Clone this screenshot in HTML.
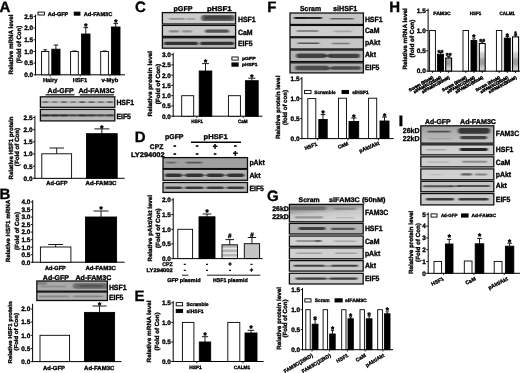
<!DOCTYPE html>
<html lang="en"><head><meta charset="utf-8"><title>Figure</title>
<style>html,body{margin:0;padding:0;background:#fff;}body{width:520px;height:373px;overflow:hidden;}svg{display:block;}text{font-family:"Liberation Sans", sans-serif;}</style></head><body>
<svg width="520" height="373" viewBox="0 0 520 373" text-rendering="geometricPrecision">
<defs><filter id="bl" x="-20%" y="-50%" width="140%" height="200%"><feGaussianBlur stdDeviation="0.9 0.7"/></filter><filter id="soft"><feGaussianBlur stdDeviation="0.35"/></filter><pattern id="hatch" width="3" height="4.4" y="245" patternUnits="userSpaceOnUse"><rect width="3" height="4.4" fill="#b4b4b4"/><rect y="2.9" width="3" height="1.5" fill="#f0f0f0"/></pattern><linearGradient id="gfade" gradientUnits="userSpaceOnUse" x1="0" y1="36" x2="0" y2="71"><stop offset="0" stop-color="#fff"/><stop offset="0.42" stop-color="#f4f4f4"/><stop offset="0.5" stop-color="#cfcfcf"/><stop offset="0.6" stop-color="#c4c4c4"/><stop offset="0.68" stop-color="#a0a0a0"/><stop offset="0.8" stop-color="#9c9c9c"/><stop offset="0.88" stop-color="#c0c0c0"/><stop offset="1" stop-color="#d8d8d8"/></linearGradient><linearGradient id="gG" x1="0" y1="0" x2="0.35" y2="1"><stop offset="0" stop-color="#858585"/><stop offset="0.4" stop-color="#a2a2a2"/><stop offset="0.6" stop-color="#c8c8c8"/><stop offset="1" stop-color="#d6d6d6"/></linearGradient><linearGradient id="gI" x1="0" y1="0" x2="0.2" y2="1"><stop offset="0" stop-color="#9a9a9a"/><stop offset="0.5" stop-color="#b0b0b0"/><stop offset="1" stop-color="#c0c0c0"/></linearGradient></defs>
<rect width="520" height="373" fill="#fff"/>
<g filter="url(#soft)">
<text x="-0.40" y="11.60" font-size="15" font-weight="bold" text-anchor="start" fill="#000" stroke="#000" stroke-width="0.34">A</text>
<rect x="38.00" y="12.10" width="6.40" height="2.90" fill="#fff" stroke="#000" stroke-width="0.9" />
<text x="47.80" y="15.62" font-size="5.6" font-weight="bold" text-anchor="start" fill="#000" stroke="#000" stroke-width="0.34" textLength="20.50" lengthAdjust="spacingAndGlyphs">Ad-GFP</text>
<rect x="74.20" y="12.10" width="5.80" height="3.10" fill="#000" stroke="#000" stroke-width="0.9" />
<text x="83.80" y="15.62" font-size="5.6" font-weight="bold" text-anchor="start" fill="#000" stroke="#000" stroke-width="0.34" textLength="28.50" lengthAdjust="spacingAndGlyphs">Ad-FAM3C</text>
<line x1="50.20" y1="74.80" x2="50.20" y2="76.60" stroke="#000" stroke-width="0.8"/>
<line x1="80.20" y1="74.80" x2="80.20" y2="76.60" stroke="#000" stroke-width="0.8"/>
<line x1="110.00" y1="74.80" x2="110.00" y2="76.60" stroke="#000" stroke-width="0.8"/>
<line x1="35.50" y1="14.60" x2="35.50" y2="75.30" stroke="#000" stroke-width="1.0"/>
<line x1="35.00" y1="74.80" x2="125.00" y2="74.80" stroke="#000" stroke-width="1.0"/>
<line x1="33.50" y1="16.40" x2="35.50" y2="16.40" stroke="#000" stroke-width="0.9"/>
<text x="33.10" y="18.70" font-size="6.4" font-weight="bold" text-anchor="end" fill="#000" stroke="#000" stroke-width="0.34">2.5</text>
<line x1="33.50" y1="28.00" x2="35.50" y2="28.00" stroke="#000" stroke-width="0.9"/>
<text x="33.10" y="30.30" font-size="6.4" font-weight="bold" text-anchor="end" fill="#000" stroke="#000" stroke-width="0.34">2.0</text>
<line x1="33.50" y1="39.80" x2="35.50" y2="39.80" stroke="#000" stroke-width="0.9"/>
<text x="33.10" y="42.10" font-size="6.4" font-weight="bold" text-anchor="end" fill="#000" stroke="#000" stroke-width="0.34">1.5</text>
<line x1="33.50" y1="51.50" x2="35.50" y2="51.50" stroke="#000" stroke-width="0.9"/>
<text x="33.10" y="53.80" font-size="6.4" font-weight="bold" text-anchor="end" fill="#000" stroke="#000" stroke-width="0.34">1.0</text>
<line x1="33.50" y1="63.10" x2="35.50" y2="63.10" stroke="#000" stroke-width="0.9"/>
<text x="33.10" y="65.40" font-size="6.4" font-weight="bold" text-anchor="end" fill="#000" stroke="#000" stroke-width="0.34">0.5</text>
<line x1="33.50" y1="74.80" x2="35.50" y2="74.80" stroke="#000" stroke-width="0.9"/>
<text x="33.10" y="77.10" font-size="6.4" font-weight="bold" text-anchor="end" fill="#000" stroke="#000" stroke-width="0.34">0.0</text>
<text x="10.40" y="46.83" font-size="6.2" font-weight="bold" text-anchor="middle" fill="#000" stroke="#000" stroke-width="0.34" textLength="60.00" lengthAdjust="spacingAndGlyphs" transform="rotate(-90 10.40 44.60)">Relative mRNA level</text>
<text x="18.50" y="46.83" font-size="6.2" font-weight="bold" text-anchor="middle" fill="#000" stroke="#000" stroke-width="0.34" textLength="37.50" lengthAdjust="spacingAndGlyphs" transform="rotate(-90 18.50 44.60)">(Fold of Con)</text>
<line x1="45.20" y1="49.80" x2="45.20" y2="51.50" stroke="#000" stroke-width="0.9"/>
<line x1="43.22" y1="49.80" x2="47.18" y2="49.80" stroke="#000" stroke-width="0.9"/>
<rect x="41.60" y="51.50" width="7.20" height="23.30" fill="#fff" stroke="#000" stroke-width="0.9" />
<line x1="55.90" y1="45.00" x2="55.90" y2="49.20" stroke="#000" stroke-width="0.9"/>
<line x1="53.64" y1="45.00" x2="58.16" y2="45.00" stroke="#000" stroke-width="0.9"/>
<rect x="51.80" y="49.20" width="8.20" height="25.60" fill="#000" stroke="#000" stroke-width="0.9" />
<line x1="74.45" y1="51.00" x2="74.45" y2="51.50" stroke="#000" stroke-width="0.9"/>
<line x1="72.33" y1="51.00" x2="76.57" y2="51.00" stroke="#000" stroke-width="0.9"/>
<rect x="70.60" y="51.50" width="7.70" height="23.30" fill="#fff" stroke="#000" stroke-width="0.9" />
<line x1="85.80" y1="27.60" x2="85.80" y2="34.00" stroke="#000" stroke-width="0.9"/>
<line x1="83.49" y1="27.60" x2="88.11" y2="27.60" stroke="#000" stroke-width="0.9"/>
<rect x="81.60" y="34.00" width="8.40" height="40.80" fill="#000" stroke="#000" stroke-width="0.9" />
<text x="85.80" y="28.98" font-size="8" font-weight="bold" text-anchor="middle" fill="#000" stroke="#000" stroke-width="0.5">*</text>
<line x1="104.55" y1="51.00" x2="104.55" y2="51.50" stroke="#000" stroke-width="0.9"/>
<line x1="102.43" y1="51.00" x2="106.67" y2="51.00" stroke="#000" stroke-width="0.9"/>
<rect x="100.70" y="51.50" width="7.70" height="23.30" fill="#fff" stroke="#000" stroke-width="0.9" />
<line x1="115.70" y1="23.60" x2="115.70" y2="27.00" stroke="#000" stroke-width="0.9"/>
<line x1="113.34" y1="23.60" x2="118.06" y2="23.60" stroke="#000" stroke-width="0.9"/>
<rect x="111.40" y="27.00" width="8.60" height="47.80" fill="#000" stroke="#000" stroke-width="0.9" />
<text x="115.70" y="24.68" font-size="8" font-weight="bold" text-anchor="middle" fill="#000" stroke="#000" stroke-width="0.5">*</text>
<text x="50.20" y="82.05" font-size="5.7" font-weight="bold" text-anchor="middle" fill="#000" stroke="#000" stroke-width="0.34" textLength="14.60" lengthAdjust="spacingAndGlyphs">Hairy</text>
<text x="80.00" y="82.05" font-size="5.7" font-weight="bold" text-anchor="middle" fill="#000" stroke="#000" stroke-width="0.34" textLength="14.60" lengthAdjust="spacingAndGlyphs">HSF1</text>
<text x="109.80" y="82.05" font-size="5.7" font-weight="bold" text-anchor="middle" fill="#000" stroke="#000" stroke-width="0.34" textLength="16.80" lengthAdjust="spacingAndGlyphs">v-Myb</text>
<text x="47.60" y="92.92" font-size="7.0" font-weight="bold" text-anchor="start" fill="#000" stroke="#000" stroke-width="0.34" textLength="26.00" lengthAdjust="spacingAndGlyphs">Ad-GFP</text>
<text x="78.40" y="92.92" font-size="7.0" font-weight="bold" text-anchor="start" fill="#000" stroke="#000" stroke-width="0.34" textLength="36.20" lengthAdjust="spacingAndGlyphs">Ad-FAM3C</text>
<line x1="45.60" y1="94.80" x2="74.50" y2="94.80" stroke="#111" stroke-width="1.2"/>
<line x1="79.80" y1="94.80" x2="113.90" y2="94.80" stroke="#111" stroke-width="1.2"/>
<rect x="40.40" y="96.80" width="74.40" height="10.50" fill="#c6c6c6" stroke="none" stroke-width="0" />
<clipPath id="c404_968"><rect x="40.40" y="96.80" width="74.40" height="10.50"/></clipPath>
<g clip-path="url(#c404_968)" filter="url(#bl)">
<rect x="42.25" y="101.35" width="6.50" height="1.70" rx="0.85" fill="#2a2a2a" opacity="0.6"/>
<rect x="51.46" y="101.35" width="6.50" height="1.70" rx="0.85" fill="#2a2a2a" opacity="0.5"/>
<rect x="60.68" y="101.35" width="6.50" height="1.70" rx="0.85" fill="#2a2a2a" opacity="0.6"/>
<rect x="69.89" y="101.35" width="6.50" height="1.70" rx="0.85" fill="#2a2a2a" opacity="0.5"/>
<rect x="79.11" y="101.35" width="6.50" height="1.70" rx="0.85" fill="#2a2a2a" opacity="0.7"/>
<rect x="88.32" y="101.35" width="6.50" height="1.70" rx="0.85" fill="#2a2a2a" opacity="0.65"/>
<rect x="97.54" y="101.35" width="6.50" height="1.70" rx="0.85" fill="#2a2a2a" opacity="0.55"/>
<rect x="106.75" y="101.35" width="6.50" height="1.70" rx="0.85" fill="#2a2a2a" opacity="0.65"/>
</g>
<rect x="40.40" y="96.80" width="74.40" height="10.50" fill="none" stroke="#111" stroke-width="1.3" />
<rect x="40.40" y="109.40" width="74.40" height="11.50" fill="#b8b8b8" stroke="none" stroke-width="0" />
<clipPath id="c404_1094"><rect x="40.40" y="109.40" width="74.40" height="11.50"/></clipPath>
<g clip-path="url(#c404_1094)" filter="url(#bl)">
<rect x="40.90" y="114.25" width="9.20" height="2.30" rx="1.15" fill="#1a1a1a" opacity="0.85"/>
<rect x="50.11" y="114.25" width="9.20" height="2.30" rx="1.15" fill="#1a1a1a" opacity="0.85"/>
<rect x="59.33" y="114.25" width="9.20" height="2.30" rx="1.15" fill="#1a1a1a" opacity="0.85"/>
<rect x="68.54" y="114.25" width="9.20" height="2.30" rx="1.15" fill="#1a1a1a" opacity="0.7"/>
<rect x="77.76" y="114.25" width="9.20" height="2.30" rx="1.15" fill="#1a1a1a" opacity="0.85"/>
<rect x="86.97" y="114.25" width="9.20" height="2.30" rx="1.15" fill="#1a1a1a" opacity="0.75"/>
<rect x="96.19" y="114.25" width="9.20" height="2.30" rx="1.15" fill="#1a1a1a" opacity="0.7"/>
<rect x="105.40" y="114.25" width="9.20" height="2.30" rx="1.15" fill="#1a1a1a" opacity="0.75"/>
</g>
<rect x="40.40" y="109.40" width="74.40" height="11.50" fill="none" stroke="#111" stroke-width="1.3" />
<text x="116.40" y="105.30" font-size="7.5" font-weight="bold" text-anchor="start" fill="#000" stroke="#000" stroke-width="0.34" textLength="17.64" lengthAdjust="spacingAndGlyphs">HSF1</text>
<text x="116.40" y="118.50" font-size="7.5" font-weight="bold" text-anchor="start" fill="#000" stroke="#000" stroke-width="0.34" textLength="14.57" lengthAdjust="spacingAndGlyphs">EIF5</text>
<line x1="34.90" y1="115.70" x2="34.90" y2="178.80" stroke="#000" stroke-width="1.0"/>
<line x1="34.40" y1="178.30" x2="124.70" y2="178.30" stroke="#000" stroke-width="1.0"/>
<line x1="32.90" y1="117.50" x2="34.90" y2="117.50" stroke="#000" stroke-width="0.9"/>
<text x="32.50" y="119.80" font-size="6.4" font-weight="bold" text-anchor="end" fill="#000" stroke="#000" stroke-width="0.34">2.5</text>
<line x1="32.90" y1="129.70" x2="34.90" y2="129.70" stroke="#000" stroke-width="0.9"/>
<text x="32.50" y="132.00" font-size="6.4" font-weight="bold" text-anchor="end" fill="#000" stroke="#000" stroke-width="0.34">2.0</text>
<line x1="32.90" y1="141.80" x2="34.90" y2="141.80" stroke="#000" stroke-width="0.9"/>
<text x="32.50" y="144.10" font-size="6.4" font-weight="bold" text-anchor="end" fill="#000" stroke="#000" stroke-width="0.34">1.5</text>
<line x1="32.90" y1="154.00" x2="34.90" y2="154.00" stroke="#000" stroke-width="0.9"/>
<text x="32.50" y="156.30" font-size="6.4" font-weight="bold" text-anchor="end" fill="#000" stroke="#000" stroke-width="0.34">1.0</text>
<line x1="32.90" y1="166.20" x2="34.90" y2="166.20" stroke="#000" stroke-width="0.9"/>
<text x="32.50" y="168.50" font-size="6.4" font-weight="bold" text-anchor="end" fill="#000" stroke="#000" stroke-width="0.34">0.5</text>
<line x1="32.90" y1="178.30" x2="34.90" y2="178.30" stroke="#000" stroke-width="0.9"/>
<text x="32.50" y="180.60" font-size="6.4" font-weight="bold" text-anchor="end" fill="#000" stroke="#000" stroke-width="0.34">0.0</text>
<text x="11.00" y="150.16" font-size="6.0" font-weight="bold" text-anchor="middle" fill="#000" stroke="#000" stroke-width="0.34" textLength="63.00" lengthAdjust="spacingAndGlyphs" transform="rotate(-90 11.00 148.00)">Relative HSF1 protein</text>
<text x="17.30" y="149.16" font-size="6.0" font-weight="bold" text-anchor="middle" fill="#000" stroke="#000" stroke-width="0.34" textLength="38.30" lengthAdjust="spacingAndGlyphs" transform="rotate(-90 17.30 147.00)">(Fold of Con)</text>
<line x1="56.70" y1="148.00" x2="56.70" y2="153.80" stroke="#000" stroke-width="0.9"/>
<line x1="49.40" y1="148.00" x2="64.00" y2="148.00" stroke="#000" stroke-width="0.9"/>
<rect x="41.80" y="153.80" width="29.80" height="24.50" fill="#fff" stroke="#000" stroke-width="0.9" />
<line x1="101.85" y1="128.90" x2="101.85" y2="133.70" stroke="#000" stroke-width="0.9"/>
<line x1="94.35" y1="128.90" x2="109.35" y2="128.90" stroke="#000" stroke-width="0.9"/>
<rect x="86.50" y="133.70" width="30.70" height="44.60" fill="#000" stroke="#000" stroke-width="0.9" />
<text x="101.85" y="130.68" font-size="8" font-weight="bold" text-anchor="middle" fill="#000" stroke="#000" stroke-width="0.5">*</text>
<text x="57.00" y="185.09" font-size="5.8" font-weight="bold" text-anchor="middle" fill="#000" stroke="#000" stroke-width="0.34" textLength="21.40" lengthAdjust="spacingAndGlyphs">Ad-GFP</text>
<text x="101.00" y="184.89" font-size="5.8" font-weight="bold" text-anchor="middle" fill="#000" stroke="#000" stroke-width="0.34" textLength="31.00" lengthAdjust="spacingAndGlyphs">Ad-FAM3C</text>
<text x="-0.60" y="198.80" font-size="15" font-weight="bold" text-anchor="start" fill="#000" stroke="#000" stroke-width="0.34">B</text>
<line x1="32.70" y1="200.20" x2="32.70" y2="262.70" stroke="#000" stroke-width="1.0"/>
<line x1="32.20" y1="262.20" x2="124.70" y2="262.20" stroke="#000" stroke-width="1.0"/>
<line x1="30.70" y1="202.00" x2="32.70" y2="202.00" stroke="#000" stroke-width="0.9"/>
<text x="30.30" y="204.30" font-size="6.4" font-weight="bold" text-anchor="end" fill="#000" stroke="#000" stroke-width="0.34">4.0</text>
<line x1="30.70" y1="209.60" x2="32.70" y2="209.60" stroke="#000" stroke-width="0.9"/>
<text x="30.30" y="211.90" font-size="6.4" font-weight="bold" text-anchor="end" fill="#000" stroke="#000" stroke-width="0.34">3.5</text>
<line x1="30.70" y1="217.10" x2="32.70" y2="217.10" stroke="#000" stroke-width="0.9"/>
<text x="30.30" y="219.40" font-size="6.4" font-weight="bold" text-anchor="end" fill="#000" stroke="#000" stroke-width="0.34">3.0</text>
<line x1="30.70" y1="224.60" x2="32.70" y2="224.60" stroke="#000" stroke-width="0.9"/>
<text x="30.30" y="226.90" font-size="6.4" font-weight="bold" text-anchor="end" fill="#000" stroke="#000" stroke-width="0.34">2.5</text>
<line x1="30.70" y1="232.10" x2="32.70" y2="232.10" stroke="#000" stroke-width="0.9"/>
<text x="30.30" y="234.40" font-size="6.4" font-weight="bold" text-anchor="end" fill="#000" stroke="#000" stroke-width="0.34">2.0</text>
<line x1="30.70" y1="239.70" x2="32.70" y2="239.70" stroke="#000" stroke-width="0.9"/>
<text x="30.30" y="242.00" font-size="6.4" font-weight="bold" text-anchor="end" fill="#000" stroke="#000" stroke-width="0.34">1.5</text>
<line x1="30.70" y1="247.20" x2="32.70" y2="247.20" stroke="#000" stroke-width="0.9"/>
<text x="30.30" y="249.50" font-size="6.4" font-weight="bold" text-anchor="end" fill="#000" stroke="#000" stroke-width="0.34">1.0</text>
<line x1="30.70" y1="254.70" x2="32.70" y2="254.70" stroke="#000" stroke-width="0.9"/>
<text x="30.30" y="257.00" font-size="6.4" font-weight="bold" text-anchor="end" fill="#000" stroke="#000" stroke-width="0.34">0.5</text>
<line x1="30.70" y1="262.20" x2="32.70" y2="262.20" stroke="#000" stroke-width="0.9"/>
<text x="30.30" y="264.50" font-size="6.4" font-weight="bold" text-anchor="end" fill="#000" stroke="#000" stroke-width="0.34">0.0</text>
<text x="8.30" y="233.06" font-size="6.0" font-weight="bold" text-anchor="middle" fill="#000" stroke="#000" stroke-width="0.34" textLength="62.50" lengthAdjust="spacingAndGlyphs" transform="rotate(-90 8.30 230.90)">Relative HSF1 mRNA</text>
<text x="16.40" y="233.16" font-size="6.0" font-weight="bold" text-anchor="middle" fill="#000" stroke="#000" stroke-width="0.34" textLength="38.00" lengthAdjust="spacingAndGlyphs" transform="rotate(-90 16.40 231.00)">(Fold of Con)</text>
<line x1="55.65" y1="244.50" x2="55.65" y2="247.00" stroke="#000" stroke-width="0.9"/>
<line x1="48.15" y1="244.50" x2="63.15" y2="244.50" stroke="#000" stroke-width="0.9"/>
<rect x="40.40" y="247.00" width="30.50" height="15.20" fill="#fff" stroke="#000" stroke-width="0.9" />
<line x1="101.05" y1="211.00" x2="101.05" y2="217.00" stroke="#000" stroke-width="0.9"/>
<line x1="93.55" y1="211.00" x2="108.55" y2="211.00" stroke="#000" stroke-width="0.9"/>
<rect x="85.50" y="217.00" width="31.10" height="45.20" fill="#000" stroke="#000" stroke-width="0.9" />
<text x="101.05" y="211.88" font-size="8" font-weight="bold" text-anchor="middle" fill="#000" stroke="#000" stroke-width="0.5">*</text>
<text x="55.40" y="270.09" font-size="5.8" font-weight="bold" text-anchor="middle" fill="#000" stroke="#000" stroke-width="0.34" textLength="21.00" lengthAdjust="spacingAndGlyphs">Ad-GFP</text>
<text x="100.70" y="270.39" font-size="5.8" font-weight="bold" text-anchor="middle" fill="#000" stroke="#000" stroke-width="0.34" textLength="30.60" lengthAdjust="spacingAndGlyphs">Ad-FAM3C</text>
<text x="42.80" y="279.92" font-size="7.0" font-weight="bold" text-anchor="start" fill="#000" stroke="#000" stroke-width="0.34" textLength="26.30" lengthAdjust="spacingAndGlyphs">Ad-GFP</text>
<text x="75.40" y="279.92" font-size="7.0" font-weight="bold" text-anchor="start" fill="#000" stroke="#000" stroke-width="0.34" textLength="36.00" lengthAdjust="spacingAndGlyphs">Ad-FAM3C</text>
<rect x="36.80" y="281.00" width="70.60" height="10.20" fill="#a9a9a9" stroke="none" stroke-width="0" />
<clipPath id="c368_2810"><rect x="36.80" y="281.00" width="70.60" height="10.20"/></clipPath>
<g clip-path="url(#c368_2810)" filter="url(#bl)">
<rect x="40.00" y="285.60" width="26.00" height="2.00" rx="1.00" fill="#555" opacity="0.3"/>
<rect x="73.00" y="283.20" width="36.00" height="5.60" rx="2.80" fill="#444" opacity="0.6"/>
<rect x="79.00" y="284.70" width="24.00" height="2.60" rx="1.30" fill="#333" opacity="0.4"/>
<rect x="35.00" y="281.00" width="12.00" height="4.00" rx="2.00" fill="#555" opacity="0.4"/>
</g>
<rect x="36.80" y="281.00" width="70.60" height="10.20" fill="none" stroke="#111" stroke-width="1.3" />
<rect x="36.80" y="292.00" width="70.60" height="8.50" fill="#b0b0b0" stroke="none" stroke-width="0" />
<clipPath id="c368_2920"><rect x="36.80" y="292.00" width="70.60" height="8.50"/></clipPath>
<g clip-path="url(#c368_2920)" filter="url(#bl)">
<rect x="39.00" y="295.50" width="30.00" height="1.80" rx="0.90" fill="#444" opacity="0.4"/>
<rect x="73.00" y="295.50" width="30.00" height="1.80" rx="0.90" fill="#444" opacity="0.4"/>
</g>
<rect x="36.80" y="292.00" width="70.60" height="8.50" fill="none" stroke="#111" stroke-width="1.3" />
<text x="108.90" y="289.90" font-size="7.5" font-weight="bold" text-anchor="start" fill="#000" stroke="#000" stroke-width="0.34" textLength="17.64" lengthAdjust="spacingAndGlyphs">HSF1</text>
<text x="108.90" y="299.50" font-size="7.5" font-weight="bold" text-anchor="start" fill="#000" stroke="#000" stroke-width="0.34" textLength="14.57" lengthAdjust="spacingAndGlyphs">EIF5</text>
<line x1="32.60" y1="303.80" x2="32.60" y2="362.10" stroke="#000" stroke-width="1.0"/>
<line x1="32.10" y1="361.60" x2="121.50" y2="361.60" stroke="#000" stroke-width="1.0"/>
<line x1="30.60" y1="309.00" x2="32.60" y2="309.00" stroke="#000" stroke-width="0.9"/>
<text x="30.20" y="311.30" font-size="6.4" font-weight="bold" text-anchor="end" fill="#000" stroke="#000" stroke-width="0.34">2.0</text>
<line x1="30.60" y1="322.10" x2="32.60" y2="322.10" stroke="#000" stroke-width="0.9"/>
<text x="30.20" y="324.40" font-size="6.4" font-weight="bold" text-anchor="end" fill="#000" stroke="#000" stroke-width="0.34">1.5</text>
<line x1="30.60" y1="335.30" x2="32.60" y2="335.30" stroke="#000" stroke-width="0.9"/>
<text x="30.20" y="337.60" font-size="6.4" font-weight="bold" text-anchor="end" fill="#000" stroke="#000" stroke-width="0.34">1.0</text>
<line x1="30.60" y1="348.50" x2="32.60" y2="348.50" stroke="#000" stroke-width="0.9"/>
<text x="30.20" y="350.80" font-size="6.4" font-weight="bold" text-anchor="end" fill="#000" stroke="#000" stroke-width="0.34">0.5</text>
<line x1="30.60" y1="361.60" x2="32.60" y2="361.60" stroke="#000" stroke-width="0.9"/>
<text x="30.20" y="363.90" font-size="6.4" font-weight="bold" text-anchor="end" fill="#000" stroke="#000" stroke-width="0.34">0.0</text>
<text x="9.50" y="334.42" font-size="5.6" font-weight="bold" text-anchor="middle" fill="#000" stroke="#000" stroke-width="0.34" textLength="62.00" lengthAdjust="spacingAndGlyphs" transform="rotate(-90 9.50 332.40)">Relative HSF1 protein</text>
<text x="16.40" y="333.82" font-size="5.6" font-weight="bold" text-anchor="middle" fill="#000" stroke="#000" stroke-width="0.34" textLength="37.50" lengthAdjust="spacingAndGlyphs" transform="rotate(-90 16.40 331.80)">(Fold of Con)</text>
<rect x="40.00" y="335.30" width="29.60" height="26.30" fill="#fff" stroke="#000" stroke-width="0.9" />
<line x1="99.55" y1="306.00" x2="99.55" y2="312.40" stroke="#000" stroke-width="0.9"/>
<line x1="92.55" y1="306.00" x2="106.55" y2="306.00" stroke="#000" stroke-width="0.9"/>
<rect x="84.50" y="312.40" width="30.10" height="49.20" fill="#000" stroke="#000" stroke-width="0.9" />
<text x="99.55" y="307.98" font-size="8" font-weight="bold" text-anchor="middle" fill="#000" stroke="#000" stroke-width="0.5">*</text>
<text x="54.00" y="369.69" font-size="5.8" font-weight="bold" text-anchor="middle" fill="#000" stroke="#000" stroke-width="0.34" textLength="22.00" lengthAdjust="spacingAndGlyphs">Ad-GFP</text>
<text x="99.20" y="369.69" font-size="5.8" font-weight="bold" text-anchor="middle" fill="#000" stroke="#000" stroke-width="0.34" textLength="30.20" lengthAdjust="spacingAndGlyphs">Ad-FAM3C</text>
<text x="134.90" y="11.60" font-size="15" font-weight="bold" text-anchor="start" fill="#000" stroke="#000" stroke-width="0.34">C</text>
<text x="173.50" y="11.32" font-size="7.0" font-weight="bold" text-anchor="start" fill="#000" stroke="#000" stroke-width="0.34" textLength="19.00" lengthAdjust="spacingAndGlyphs">pGFP</text>
<text x="207.00" y="11.32" font-size="7.0" font-weight="bold" text-anchor="start" fill="#000" stroke="#000" stroke-width="0.34" textLength="24.50" lengthAdjust="spacingAndGlyphs">pHSF1</text>
<rect x="162.40" y="12.60" width="73.20" height="11.40" fill="#cdcdcd" stroke="none" stroke-width="0" />
<clipPath id="c1624_126"><rect x="162.40" y="12.60" width="73.20" height="11.40"/></clipPath>
<g clip-path="url(#c1624_126)" filter="url(#bl)">
<rect x="169.00" y="17.90" width="16.00" height="1.80" rx="0.90" fill="#555" opacity="0.5"/>
<rect x="186.50" y="17.90" width="9.00" height="1.80" rx="0.90" fill="#555" opacity="0.4"/>
<rect x="201.00" y="15.00" width="34.00" height="6.00" rx="3.00" fill="#444" opacity="0.8"/>
<rect x="204.00" y="16.10" width="28.00" height="3.40" rx="1.70" fill="#333" opacity="0.6"/>
</g>
<rect x="162.40" y="12.60" width="73.20" height="11.40" fill="none" stroke="#111" stroke-width="1.3" />
<rect x="162.40" y="25.40" width="73.20" height="11.00" fill="#cacaca" stroke="none" stroke-width="0" />
<clipPath id="c1624_254"><rect x="162.40" y="25.40" width="73.20" height="11.00"/></clipPath>
<g clip-path="url(#c1624_254)" filter="url(#bl)">
<rect x="169.00" y="30.30" width="10.00" height="2.20" rx="1.10" fill="#444" opacity="0.5"/>
<rect x="182.00" y="30.30" width="10.00" height="2.20" rx="1.10" fill="#444" opacity="0.45"/>
<rect x="205.00" y="29.60" width="24.00" height="3.20" rx="1.60" fill="#333" opacity="0.8"/>
</g>
<rect x="162.40" y="25.40" width="73.20" height="11.00" fill="none" stroke="#111" stroke-width="1.3" />
<rect x="162.40" y="37.70" width="73.20" height="10.50" fill="#b4b4b4" stroke="none" stroke-width="0" />
<clipPath id="c1624_377"><rect x="162.40" y="37.70" width="73.20" height="10.50"/></clipPath>
<g clip-path="url(#c1624_377)" filter="url(#bl)">
<rect x="164.00" y="41.80" width="34.00" height="3.20" rx="1.60" fill="#222" opacity="0.9"/>
<rect x="200.00" y="41.80" width="34.00" height="3.20" rx="1.60" fill="#222" opacity="0.9"/>
</g>
<rect x="162.40" y="37.70" width="73.20" height="10.50" fill="none" stroke="#111" stroke-width="1.3" />
<text x="238.00" y="21.70" font-size="7.5" font-weight="bold" text-anchor="start" fill="#000" stroke="#000" stroke-width="0.34" textLength="17.64" lengthAdjust="spacingAndGlyphs">HSF1</text>
<text x="238.00" y="34.50" font-size="7.5" font-weight="bold" text-anchor="start" fill="#000" stroke="#000" stroke-width="0.34" textLength="14.57" lengthAdjust="spacingAndGlyphs">CaM</text>
<text x="238.00" y="46.30" font-size="7.5" font-weight="bold" text-anchor="start" fill="#000" stroke="#000" stroke-width="0.34" textLength="14.57" lengthAdjust="spacingAndGlyphs">EIF5</text>
<line x1="196.80" y1="116.20" x2="196.80" y2="118.00" stroke="#000" stroke-width="0.8"/>
<line x1="243.20" y1="116.20" x2="243.20" y2="118.00" stroke="#000" stroke-width="0.8"/>
<line x1="173.20" y1="52.90" x2="173.20" y2="116.70" stroke="#000" stroke-width="1.0"/>
<line x1="172.70" y1="116.20" x2="262.50" y2="116.20" stroke="#000" stroke-width="1.0"/>
<line x1="171.20" y1="54.70" x2="173.20" y2="54.70" stroke="#000" stroke-width="0.9"/>
<text x="170.80" y="57.00" font-size="6.4" font-weight="bold" text-anchor="end" fill="#000" stroke="#000" stroke-width="0.34">3.0</text>
<line x1="171.20" y1="64.90" x2="173.20" y2="64.90" stroke="#000" stroke-width="0.9"/>
<text x="170.80" y="67.20" font-size="6.4" font-weight="bold" text-anchor="end" fill="#000" stroke="#000" stroke-width="0.34">2.5</text>
<line x1="171.20" y1="75.20" x2="173.20" y2="75.20" stroke="#000" stroke-width="0.9"/>
<text x="170.80" y="77.50" font-size="6.4" font-weight="bold" text-anchor="end" fill="#000" stroke="#000" stroke-width="0.34">2.0</text>
<line x1="171.20" y1="85.40" x2="173.20" y2="85.40" stroke="#000" stroke-width="0.9"/>
<text x="170.80" y="87.70" font-size="6.4" font-weight="bold" text-anchor="end" fill="#000" stroke="#000" stroke-width="0.34">1.5</text>
<line x1="171.20" y1="95.70" x2="173.20" y2="95.70" stroke="#000" stroke-width="0.9"/>
<text x="170.80" y="98.00" font-size="6.4" font-weight="bold" text-anchor="end" fill="#000" stroke="#000" stroke-width="0.34">1.0</text>
<line x1="171.20" y1="105.90" x2="173.20" y2="105.90" stroke="#000" stroke-width="0.9"/>
<text x="170.80" y="108.20" font-size="6.4" font-weight="bold" text-anchor="end" fill="#000" stroke="#000" stroke-width="0.34">0.5</text>
<line x1="171.20" y1="116.20" x2="173.20" y2="116.20" stroke="#000" stroke-width="0.9"/>
<text x="170.80" y="118.50" font-size="6.4" font-weight="bold" text-anchor="end" fill="#000" stroke="#000" stroke-width="0.34">0.0</text>
<text x="150.30" y="85.96" font-size="6.0" font-weight="bold" text-anchor="middle" fill="#000" stroke="#000" stroke-width="0.34" textLength="65.60" lengthAdjust="spacingAndGlyphs" transform="rotate(-90 150.30 83.80)">Relative protein level</text>
<text x="157.40" y="86.16" font-size="6.0" font-weight="bold" text-anchor="middle" fill="#000" stroke="#000" stroke-width="0.34" textLength="40.60" lengthAdjust="spacingAndGlyphs" transform="rotate(-90 157.40 84.00)">(Fold of Con)</text>
<rect x="231.90" y="57.00" width="6.30" height="3.10" fill="#fff" stroke="#000" stroke-width="0.9" />
<text x="242.00" y="60.18" font-size="4.4" font-weight="bold" text-anchor="start" fill="#000" stroke="#000" stroke-width="0.34" textLength="13.60" lengthAdjust="spacingAndGlyphs">pGFP</text>
<rect x="231.90" y="62.90" width="6.30" height="3.30" fill="#000" stroke="#000" stroke-width="0.9" />
<text x="242.00" y="66.18" font-size="4.4" font-weight="bold" text-anchor="start" fill="#000" stroke="#000" stroke-width="0.34" textLength="15.60" lengthAdjust="spacingAndGlyphs">pHSF1</text>
<rect x="181.70" y="95.70" width="12.00" height="20.50" fill="#fff" stroke="#000" stroke-width="0.9" />
<line x1="205.50" y1="63.60" x2="205.50" y2="71.00" stroke="#000" stroke-width="0.9"/>
<line x1="202.03" y1="63.60" x2="208.97" y2="63.60" stroke="#000" stroke-width="0.9"/>
<rect x="199.20" y="71.00" width="12.60" height="45.20" fill="#000" stroke="#000" stroke-width="0.9" />
<text x="205.50" y="65.08" font-size="8" font-weight="bold" text-anchor="middle" fill="#000" stroke="#000" stroke-width="0.5">*</text>
<rect x="228.40" y="95.70" width="12.00" height="20.50" fill="#fff" stroke="#000" stroke-width="0.9" />
<line x1="251.80" y1="78.20" x2="251.80" y2="80.70" stroke="#000" stroke-width="0.9"/>
<line x1="248.28" y1="78.20" x2="255.32" y2="78.20" stroke="#000" stroke-width="0.9"/>
<rect x="245.40" y="80.70" width="12.80" height="35.50" fill="#000" stroke="#000" stroke-width="0.9" />
<text x="251.80" y="79.68" font-size="8" font-weight="bold" text-anchor="middle" fill="#000" stroke="#000" stroke-width="0.5">*</text>
<text x="197.00" y="122.56" font-size="4.9" font-weight="bold" text-anchor="middle" fill="#000" stroke="#000" stroke-width="0.34" textLength="11.60" lengthAdjust="spacingAndGlyphs">HSF1</text>
<text x="242.70" y="122.56" font-size="4.9" font-weight="bold" text-anchor="middle" fill="#000" stroke="#000" stroke-width="0.34" textLength="9.60" lengthAdjust="spacingAndGlyphs">CaM</text>
<text x="134.80" y="141.90" font-size="15" font-weight="bold" text-anchor="start" fill="#000" stroke="#000" stroke-width="0.34">D</text>
<text x="165.00" y="139.22" font-size="7.0" font-weight="bold" text-anchor="start" fill="#000" stroke="#000" stroke-width="0.34" textLength="18.50" lengthAdjust="spacingAndGlyphs">pGFP</text>
<text x="203.60" y="139.22" font-size="7.0" font-weight="bold" text-anchor="start" fill="#000" stroke="#000" stroke-width="0.34" textLength="24.00" lengthAdjust="spacingAndGlyphs">pHSF1</text>
<line x1="191.00" y1="142.20" x2="241.00" y2="142.20" stroke="#000" stroke-width="1.5"/>
<text x="163.40" y="149.05" font-size="6.8" font-weight="bold" text-anchor="end" fill="#000" stroke="#000" stroke-width="0.34" textLength="13.60" lengthAdjust="spacingAndGlyphs">CPZ</text>
<text x="164.60" y="156.95" font-size="6.8" font-weight="bold" text-anchor="end" fill="#000" stroke="#000" stroke-width="0.34" textLength="33.60" lengthAdjust="spacingAndGlyphs">LY294002</text>
<text x="174.80" y="148.48" font-size="8" font-weight="bold" text-anchor="middle" fill="#000" stroke="#000" stroke-width="0.6">-</text>
<text x="174.80" y="155.88" font-size="8" font-weight="bold" text-anchor="middle" fill="#000" stroke="#000" stroke-width="0.6">-</text>
<text x="197.00" y="148.48" font-size="8" font-weight="bold" text-anchor="middle" fill="#000" stroke="#000" stroke-width="0.6">-</text>
<text x="197.00" y="155.88" font-size="8" font-weight="bold" text-anchor="middle" fill="#000" stroke="#000" stroke-width="0.6">-</text>
<text x="215.00" y="148.88" font-size="8" font-weight="bold" text-anchor="middle" fill="#000" stroke="#000" stroke-width="0.6">+</text>
<text x="215.00" y="155.88" font-size="8" font-weight="bold" text-anchor="middle" fill="#000" stroke="#000" stroke-width="0.6">-</text>
<text x="235.40" y="148.48" font-size="8" font-weight="bold" text-anchor="middle" fill="#000" stroke="#000" stroke-width="0.6">-</text>
<text x="235.40" y="156.28" font-size="8" font-weight="bold" text-anchor="middle" fill="#000" stroke="#000" stroke-width="0.6">+</text>
<rect x="163.00" y="157.60" width="84.50" height="11.00" fill="#a0a0a0" stroke="none" stroke-width="0" />
<clipPath id="c1630_1576"><rect x="163.00" y="157.60" width="84.50" height="11.00"/></clipPath>
<g clip-path="url(#c1630_1576)" filter="url(#bl)">
<rect x="166.00" y="161.80" width="10.00" height="1.60" rx="0.80" fill="#333" opacity="0.55"/>
<rect x="186.00" y="161.70" width="16.00" height="1.80" rx="0.90" fill="#2a2a2a" opacity="0.65"/>
</g>
<rect x="163.00" y="157.60" width="84.50" height="11.00" fill="none" stroke="#111" stroke-width="1.3" />
<rect x="163.00" y="169.30" width="84.50" height="11.00" fill="#b2b2b2" stroke="none" stroke-width="0" />
<clipPath id="c1630_1693"><rect x="163.00" y="169.30" width="84.50" height="11.00"/></clipPath>
<g clip-path="url(#c1630_1693)" filter="url(#bl)">
<rect x="165.00" y="173.40" width="17.00" height="3.60" rx="1.80" fill="#222" opacity="0.9"/>
<rect x="185.30" y="173.40" width="18.00" height="3.60" rx="1.80" fill="#222" opacity="0.9"/>
<rect x="206.70" y="173.40" width="17.00" height="3.60" rx="1.80" fill="#222" opacity="0.9"/>
<rect x="227.10" y="173.40" width="17.00" height="3.60" rx="1.80" fill="#222" opacity="0.9"/>
<rect x="165.00" y="174.40" width="80.00" height="1.60" rx="0.80" fill="#333" opacity="0.45"/>
</g>
<rect x="163.00" y="169.30" width="84.50" height="11.00" fill="none" stroke="#111" stroke-width="1.3" />
<rect x="163.00" y="182.50" width="84.50" height="9.90" fill="#b8b8b8" stroke="none" stroke-width="0" />
<clipPath id="c1630_1825"><rect x="163.00" y="182.50" width="84.50" height="9.90"/></clipPath>
<g clip-path="url(#c1630_1825)" filter="url(#bl)">
<rect x="165.00" y="186.50" width="17.00" height="2.60" rx="1.30" fill="#222" opacity="0.85"/>
<rect x="185.30" y="186.50" width="18.00" height="2.60" rx="1.30" fill="#222" opacity="0.85"/>
<rect x="206.70" y="186.50" width="17.00" height="2.60" rx="1.30" fill="#222" opacity="0.85"/>
<rect x="227.10" y="186.50" width="17.00" height="2.60" rx="1.30" fill="#222" opacity="0.85"/>
<rect x="165.00" y="187.20" width="80.00" height="1.20" rx="0.60" fill="#333" opacity="0.4"/>
</g>
<rect x="163.00" y="182.50" width="84.50" height="9.90" fill="none" stroke="#111" stroke-width="1.3" />
<text x="249.40" y="165.00" font-size="7.5" font-weight="bold" text-anchor="start" fill="#000" stroke="#000" stroke-width="0.34" textLength="15.33" lengthAdjust="spacingAndGlyphs">pAkt</text>
<text x="249.40" y="177.50" font-size="7.5" font-weight="bold" text-anchor="start" fill="#000" stroke="#000" stroke-width="0.34" textLength="11.12" lengthAdjust="spacingAndGlyphs">Akt</text>
<text x="249.40" y="190.70" font-size="7.5" font-weight="bold" text-anchor="start" fill="#000" stroke="#000" stroke-width="0.34" textLength="14.57" lengthAdjust="spacingAndGlyphs">EIF5</text>
<line x1="173.20" y1="198.10" x2="173.20" y2="259.10" stroke="#000" stroke-width="1.0"/>
<line x1="172.70" y1="258.60" x2="262.50" y2="258.60" stroke="#000" stroke-width="1.0"/>
<line x1="171.20" y1="199.90" x2="173.20" y2="199.90" stroke="#000" stroke-width="0.9"/>
<text x="170.80" y="202.20" font-size="6.4" font-weight="bold" text-anchor="end" fill="#000" stroke="#000" stroke-width="0.34">2.0</text>
<line x1="171.20" y1="214.60" x2="173.20" y2="214.60" stroke="#000" stroke-width="0.9"/>
<text x="170.80" y="216.90" font-size="6.4" font-weight="bold" text-anchor="end" fill="#000" stroke="#000" stroke-width="0.34">1.5</text>
<line x1="171.20" y1="229.30" x2="173.20" y2="229.30" stroke="#000" stroke-width="0.9"/>
<text x="170.80" y="231.60" font-size="6.4" font-weight="bold" text-anchor="end" fill="#000" stroke="#000" stroke-width="0.34">1.0</text>
<line x1="171.20" y1="243.90" x2="173.20" y2="243.90" stroke="#000" stroke-width="0.9"/>
<text x="170.80" y="246.20" font-size="6.4" font-weight="bold" text-anchor="end" fill="#000" stroke="#000" stroke-width="0.34">0.5</text>
<line x1="171.20" y1="258.60" x2="173.20" y2="258.60" stroke="#000" stroke-width="0.9"/>
<text x="170.80" y="260.90" font-size="6.4" font-weight="bold" text-anchor="end" fill="#000" stroke="#000" stroke-width="0.34">0.0</text>
<text x="150.10" y="230.46" font-size="6.0" font-weight="bold" text-anchor="middle" fill="#000" stroke="#000" stroke-width="0.34" textLength="66.60" lengthAdjust="spacingAndGlyphs" transform="rotate(-90 150.10 228.30)">Relative pAkt/Akt level</text>
<text x="157.40" y="230.36" font-size="6.0" font-weight="bold" text-anchor="middle" fill="#000" stroke="#000" stroke-width="0.34" textLength="39.80" lengthAdjust="spacingAndGlyphs" transform="rotate(-90 157.40 228.20)">(Fold of Con)</text>
<rect x="177.80" y="229.30" width="14.80" height="29.30" fill="#fff" stroke="#000" stroke-width="0.9" />
<line x1="207.00" y1="214.00" x2="207.00" y2="216.80" stroke="#000" stroke-width="0.9"/>
<line x1="202.60" y1="214.00" x2="211.40" y2="214.00" stroke="#000" stroke-width="0.9"/>
<rect x="199.00" y="216.80" width="16.00" height="41.80" fill="#000" stroke="#000" stroke-width="0.9" />
<text x="207.00" y="215.48" font-size="8" font-weight="bold" text-anchor="middle" fill="#000" stroke="#000" stroke-width="0.5">*</text>
<line x1="229.75" y1="239.60" x2="229.75" y2="244.80" stroke="#000" stroke-width="0.9"/>
<line x1="225.49" y1="239.60" x2="234.01" y2="239.60" stroke="#000" stroke-width="0.9"/>
<rect x="222.00" y="244.80" width="15.50" height="13.80" fill="url(#hatch)" stroke="#000" stroke-width="0.9" />
<text x="229.75" y="238.25" font-size="6.24" font-weight="bold" text-anchor="middle" fill="#000" stroke="#000" stroke-width="0.4">#</text>
<line x1="251.95" y1="237.50" x2="251.95" y2="243.70" stroke="#000" stroke-width="0.9"/>
<line x1="247.74" y1="237.50" x2="256.16" y2="237.50" stroke="#000" stroke-width="0.9"/>
<rect x="244.30" y="243.70" width="15.30" height="14.90" fill="#c4c4c4" stroke="#000" stroke-width="0.9" />
<text x="251.95" y="236.75" font-size="6.24" font-weight="bold" text-anchor="middle" fill="#000" stroke="#000" stroke-width="0.4">#</text>
<text x="172.60" y="266.11" font-size="5.3" font-weight="bold" text-anchor="end" fill="#000" stroke="#000" stroke-width="0.34" textLength="10.30" lengthAdjust="spacingAndGlyphs">CPZ</text>
<text x="172.80" y="271.71" font-size="5.3" font-weight="bold" text-anchor="end" fill="#000" stroke="#000" stroke-width="0.34" textLength="26.20" lengthAdjust="spacingAndGlyphs">LY294002</text>
<text x="184.80" y="265.96" font-size="6" font-weight="bold" text-anchor="middle" fill="#000" stroke="#000" stroke-width="0.45">-</text>
<text x="184.80" y="271.96" font-size="6" font-weight="bold" text-anchor="middle" fill="#000" stroke="#000" stroke-width="0.45">-</text>
<text x="207.00" y="265.96" font-size="6" font-weight="bold" text-anchor="middle" fill="#000" stroke="#000" stroke-width="0.45">-</text>
<text x="207.00" y="271.96" font-size="6" font-weight="bold" text-anchor="middle" fill="#000" stroke="#000" stroke-width="0.45">-</text>
<text x="230.00" y="265.96" font-size="6" font-weight="bold" text-anchor="middle" fill="#000" stroke="#000" stroke-width="0.45">+</text>
<text x="230.00" y="271.96" font-size="6" font-weight="bold" text-anchor="middle" fill="#000" stroke="#000" stroke-width="0.45">-</text>
<text x="251.50" y="265.96" font-size="6" font-weight="bold" text-anchor="middle" fill="#000" stroke="#000" stroke-width="0.45">-</text>
<text x="251.50" y="271.96" font-size="6" font-weight="bold" text-anchor="middle" fill="#000" stroke="#000" stroke-width="0.45">+</text>
<line x1="182.00" y1="275.20" x2="188.40" y2="275.20" stroke="#000" stroke-width="0.9"/>
<line x1="207.00" y1="275.20" x2="260.40" y2="275.20" stroke="#000" stroke-width="0.9"/>
<text x="167.20" y="281.94" font-size="5.4" font-weight="bold" text-anchor="start" fill="#000" stroke="#000" stroke-width="0.34" textLength="33.40" lengthAdjust="spacingAndGlyphs">GFP plasmid</text>
<text x="213.00" y="282.34" font-size="5.4" font-weight="bold" text-anchor="start" fill="#000" stroke="#000" stroke-width="0.34" textLength="34.60" lengthAdjust="spacingAndGlyphs">HSF1 plasmid</text>
<text x="134.60" y="300.70" font-size="15" font-weight="bold" text-anchor="start" fill="#000" stroke="#000" stroke-width="0.34">E</text>
<line x1="196.80" y1="361.50" x2="196.80" y2="363.30" stroke="#000" stroke-width="0.8"/>
<line x1="243.00" y1="361.50" x2="243.00" y2="363.30" stroke="#000" stroke-width="0.8"/>
<line x1="173.20" y1="301.00" x2="173.20" y2="362.00" stroke="#000" stroke-width="1.0"/>
<line x1="172.70" y1="361.50" x2="263.60" y2="361.50" stroke="#000" stroke-width="1.0"/>
<line x1="171.20" y1="302.80" x2="173.20" y2="302.80" stroke="#000" stroke-width="0.9"/>
<text x="170.80" y="305.10" font-size="6.4" font-weight="bold" text-anchor="end" fill="#000" stroke="#000" stroke-width="0.34">1.5</text>
<line x1="171.20" y1="322.40" x2="173.20" y2="322.40" stroke="#000" stroke-width="0.9"/>
<text x="170.80" y="324.70" font-size="6.4" font-weight="bold" text-anchor="end" fill="#000" stroke="#000" stroke-width="0.34">1.0</text>
<line x1="171.20" y1="342.00" x2="173.20" y2="342.00" stroke="#000" stroke-width="0.9"/>
<text x="170.80" y="344.30" font-size="6.4" font-weight="bold" text-anchor="end" fill="#000" stroke="#000" stroke-width="0.34">0.5</text>
<line x1="171.20" y1="361.50" x2="173.20" y2="361.50" stroke="#000" stroke-width="0.9"/>
<text x="170.80" y="363.80" font-size="6.4" font-weight="bold" text-anchor="end" fill="#000" stroke="#000" stroke-width="0.34">0.0</text>
<text x="149.10" y="333.56" font-size="6.0" font-weight="bold" text-anchor="middle" fill="#000" stroke="#000" stroke-width="0.34" textLength="62.00" lengthAdjust="spacingAndGlyphs" transform="rotate(-90 149.10 331.40)">Relative mRNA level</text>
<text x="156.40" y="333.56" font-size="6.0" font-weight="bold" text-anchor="middle" fill="#000" stroke="#000" stroke-width="0.34" textLength="38.00" lengthAdjust="spacingAndGlyphs" transform="rotate(-90 156.40 331.40)">(Fold of Con)</text>
<rect x="176.20" y="302.60" width="6.40" height="3.20" fill="#fff" stroke="#000" stroke-width="0.9" />
<text x="186.50" y="306.00" font-size="5" font-weight="bold" text-anchor="start" fill="#000" stroke="#000" stroke-width="0.34" textLength="22.00" lengthAdjust="spacingAndGlyphs">Scramble</text>
<rect x="176.20" y="309.40" width="6.40" height="3.20" fill="#000" stroke="#000" stroke-width="0.9" />
<text x="186.50" y="312.80" font-size="5" font-weight="bold" text-anchor="start" fill="#000" stroke="#000" stroke-width="0.34" textLength="17.00" lengthAdjust="spacingAndGlyphs">siHSF1</text>
<rect x="182.40" y="322.40" width="11.50" height="39.10" fill="#fff" stroke="#000" stroke-width="0.9" />
<line x1="205.00" y1="336.70" x2="205.00" y2="342.00" stroke="#000" stroke-width="0.9"/>
<line x1="201.87" y1="336.70" x2="208.13" y2="336.70" stroke="#000" stroke-width="0.9"/>
<rect x="199.30" y="342.00" width="11.40" height="19.50" fill="#000" stroke="#000" stroke-width="0.9" />
<text x="205.00" y="338.08" font-size="8" font-weight="bold" text-anchor="middle" fill="#000" stroke="#000" stroke-width="0.5">*</text>
<rect x="227.80" y="322.40" width="12.00" height="39.10" fill="#fff" stroke="#000" stroke-width="0.9" />
<line x1="251.00" y1="330.30" x2="251.00" y2="333.00" stroke="#000" stroke-width="0.9"/>
<line x1="247.70" y1="330.30" x2="254.30" y2="330.30" stroke="#000" stroke-width="0.9"/>
<rect x="245.00" y="333.00" width="12.00" height="28.50" fill="#000" stroke="#000" stroke-width="0.9" />
<text x="251.00" y="331.48" font-size="8" font-weight="bold" text-anchor="middle" fill="#000" stroke="#000" stroke-width="0.5">*</text>
<text x="195.50" y="369.33" font-size="4.8" font-weight="bold" text-anchor="middle" fill="#000" stroke="#000" stroke-width="0.34" textLength="12.60" lengthAdjust="spacingAndGlyphs">HSF1</text>
<text x="242.00" y="369.33" font-size="4.8" font-weight="bold" text-anchor="middle" fill="#000" stroke="#000" stroke-width="0.34" textLength="16.50" lengthAdjust="spacingAndGlyphs">CALM1</text>
<text x="267.20" y="11.80" font-size="15" font-weight="bold" text-anchor="start" fill="#000" stroke="#000" stroke-width="0.34">F</text>
<text x="300.00" y="10.83" font-size="7.3" font-weight="bold" text-anchor="start" fill="#000" stroke="#000" stroke-width="0.34" textLength="21.00" lengthAdjust="spacingAndGlyphs">Scram</text>
<text x="333.00" y="10.83" font-size="7.3" font-weight="bold" text-anchor="start" fill="#000" stroke="#000" stroke-width="0.34" textLength="24.30" lengthAdjust="spacingAndGlyphs">siHSF1</text>
<rect x="290.00" y="13.00" width="73.40" height="11.50" fill="#c4c4c4" stroke="none" stroke-width="0" />
<clipPath id="c2900_130"><rect x="290.00" y="13.00" width="73.40" height="11.50"/></clipPath>
<g clip-path="url(#c2900_130)" filter="url(#bl)">
<rect x="294.00" y="17.10" width="28.00" height="1.80" rx="0.90" fill="#1a1a1a" opacity="0.95"/>
<rect x="294.00" y="16.90" width="12.00" height="1.80" rx="0.90" fill="#111" opacity="0.6"/>
<rect x="330.00" y="18.00" width="24.00" height="1.60" rx="0.80" fill="#333" opacity="0.7"/>
</g>
<rect x="290.00" y="13.00" width="73.40" height="11.50" fill="none" stroke="#111" stroke-width="1.3" />
<rect x="290.00" y="25.40" width="73.40" height="11.40" fill="#cecece" stroke="none" stroke-width="0" />
<clipPath id="c2900_254"><rect x="290.00" y="25.40" width="73.40" height="11.40"/></clipPath>
<g clip-path="url(#c2900_254)" filter="url(#bl)">
<rect x="296.50" y="30.00" width="22.00" height="2.00" rx="1.00" fill="#555" opacity="0.6"/>
<rect x="334.00" y="30.60" width="18.00" height="1.60" rx="0.80" fill="#666" opacity="0.4"/>
</g>
<rect x="290.00" y="25.40" width="73.40" height="11.40" fill="none" stroke="#111" stroke-width="1.3" />
<rect x="290.00" y="37.70" width="73.40" height="11.30" fill="#c6c6c6" stroke="none" stroke-width="0" />
<clipPath id="c2900_377"><rect x="290.00" y="37.70" width="73.40" height="11.30"/></clipPath>
<g clip-path="url(#c2900_377)" filter="url(#bl)">
<rect x="297.50" y="42.40" width="22.00" height="1.60" rx="0.80" fill="#333" opacity="0.75"/>
<rect x="332.00" y="42.85" width="18.00" height="1.50" rx="0.75" fill="#444" opacity="0.6"/>
</g>
<rect x="290.00" y="37.70" width="73.40" height="11.30" fill="none" stroke="#111" stroke-width="1.3" />
<rect x="290.00" y="50.00" width="73.40" height="11.60" fill="#b4b4b4" stroke="none" stroke-width="0" />
<clipPath id="c2900_500"><rect x="290.00" y="50.00" width="73.40" height="11.60"/></clipPath>
<g clip-path="url(#c2900_500)" filter="url(#bl)">
<rect x="296.00" y="53.50" width="30.00" height="4.60" rx="2.30" fill="#333" opacity="0.9"/>
<rect x="328.00" y="53.70" width="32.00" height="4.20" rx="2.10" fill="#333" opacity="0.9"/>
<rect x="322.00" y="54.50" width="10.00" height="2.60" rx="1.30" fill="#333" opacity="0.8"/>
</g>
<rect x="290.00" y="50.00" width="73.40" height="11.60" fill="none" stroke="#111" stroke-width="1.3" />
<rect x="290.00" y="62.80" width="73.40" height="10.10" fill="#adadad" stroke="none" stroke-width="0" />
<clipPath id="c2900_628"><rect x="290.00" y="62.80" width="73.40" height="10.10"/></clipPath>
<g clip-path="url(#c2900_628)" filter="url(#bl)">
<rect x="295.00" y="65.80" width="34.00" height="4.40" rx="2.20" fill="#3a3a3a" opacity="0.85"/>
<rect x="331.00" y="66.20" width="30.00" height="3.60" rx="1.80" fill="#3a3a3a" opacity="0.85"/>
<rect x="325.00" y="67.20" width="8.00" height="2.40" rx="1.20" fill="#3a3a3a" opacity="0.7"/>
</g>
<rect x="290.00" y="62.80" width="73.40" height="10.10" fill="none" stroke="#111" stroke-width="1.3" />
<text x="364.90" y="21.50" font-size="7.5" font-weight="bold" text-anchor="start" fill="#000" stroke="#000" stroke-width="0.34" textLength="17.64" lengthAdjust="spacingAndGlyphs">HSF1</text>
<text x="364.90" y="32.50" font-size="7.5" font-weight="bold" text-anchor="start" fill="#000" stroke="#000" stroke-width="0.34" textLength="14.57" lengthAdjust="spacingAndGlyphs">CaM</text>
<text x="364.90" y="45.20" font-size="7.5" font-weight="bold" text-anchor="start" fill="#000" stroke="#000" stroke-width="0.34" textLength="15.33" lengthAdjust="spacingAndGlyphs">pAkt</text>
<text x="364.90" y="57.40" font-size="7.5" font-weight="bold" text-anchor="start" fill="#000" stroke="#000" stroke-width="0.34" textLength="11.12" lengthAdjust="spacingAndGlyphs">Akt</text>
<text x="364.90" y="69.50" font-size="7.5" font-weight="bold" text-anchor="start" fill="#000" stroke="#000" stroke-width="0.34" textLength="14.57" lengthAdjust="spacingAndGlyphs">EIF5</text>
<line x1="317.70" y1="138.60" x2="317.70" y2="140.40" stroke="#000" stroke-width="0.8"/>
<line x1="347.90" y1="138.60" x2="347.90" y2="140.40" stroke="#000" stroke-width="0.8"/>
<line x1="378.40" y1="138.60" x2="378.40" y2="140.40" stroke="#000" stroke-width="0.8"/>
<line x1="301.90" y1="77.00" x2="301.90" y2="139.10" stroke="#000" stroke-width="1.0"/>
<line x1="301.40" y1="138.60" x2="393.70" y2="138.60" stroke="#000" stroke-width="1.0"/>
<line x1="299.90" y1="78.80" x2="301.90" y2="78.80" stroke="#000" stroke-width="0.9"/>
<text x="299.50" y="81.10" font-size="6.4" font-weight="bold" text-anchor="end" fill="#000" stroke="#000" stroke-width="0.34">1.5</text>
<line x1="299.90" y1="98.60" x2="301.90" y2="98.60" stroke="#000" stroke-width="0.9"/>
<text x="299.50" y="100.90" font-size="6.4" font-weight="bold" text-anchor="end" fill="#000" stroke="#000" stroke-width="0.34">1.0</text>
<line x1="299.90" y1="118.60" x2="301.90" y2="118.60" stroke="#000" stroke-width="0.9"/>
<text x="299.50" y="120.90" font-size="6.4" font-weight="bold" text-anchor="end" fill="#000" stroke="#000" stroke-width="0.34">0.5</text>
<line x1="299.90" y1="138.60" x2="301.90" y2="138.60" stroke="#000" stroke-width="0.9"/>
<text x="299.50" y="140.90" font-size="6.4" font-weight="bold" text-anchor="end" fill="#000" stroke="#000" stroke-width="0.34">0.0</text>
<text x="277.70" y="109.46" font-size="6.0" font-weight="bold" text-anchor="middle" fill="#000" stroke="#000" stroke-width="0.34" textLength="63.40" lengthAdjust="spacingAndGlyphs" transform="rotate(-90 277.70 107.30)">Relative protein level</text>
<text x="285.00" y="109.76" font-size="6.0" font-weight="bold" text-anchor="middle" fill="#000" stroke="#000" stroke-width="0.34" textLength="35.00" lengthAdjust="spacingAndGlyphs" transform="rotate(-90 285.00 107.60)">(fold of con)</text>
<rect x="304.60" y="90.40" width="6.40" height="3.20" fill="#fff" stroke="#000" stroke-width="0.9" />
<text x="314.30" y="93.73" font-size="4.8" font-weight="bold" text-anchor="start" fill="#000" stroke="#000" stroke-width="0.34" textLength="21.30" lengthAdjust="spacingAndGlyphs">Scramble</text>
<rect x="342.00" y="90.40" width="6.60" height="3.20" fill="#000" stroke="#000" stroke-width="0.9" />
<text x="352.20" y="93.73" font-size="4.8" font-weight="bold" text-anchor="start" fill="#000" stroke="#000" stroke-width="0.34" textLength="16.40" lengthAdjust="spacingAndGlyphs">siHSF1</text>
<rect x="307.80" y="98.60" width="8.00" height="40.00" fill="#fff" stroke="#000" stroke-width="0.9" />
<line x1="323.00" y1="114.60" x2="323.00" y2="119.50" stroke="#000" stroke-width="0.9"/>
<line x1="320.69" y1="114.60" x2="325.31" y2="114.60" stroke="#000" stroke-width="0.9"/>
<rect x="318.80" y="119.50" width="8.40" height="19.10" fill="#000" stroke="#000" stroke-width="0.9" />
<text x="323.00" y="115.68" font-size="8" font-weight="bold" text-anchor="middle" fill="#000" stroke="#000" stroke-width="0.5">*</text>
<rect x="338.50" y="98.20" width="8.00" height="40.30" fill="#fff" stroke="#000" stroke-width="0.9" />
<line x1="353.85" y1="118.00" x2="353.85" y2="121.50" stroke="#000" stroke-width="0.9"/>
<line x1="351.18" y1="118.00" x2="356.52" y2="118.00" stroke="#000" stroke-width="0.9"/>
<rect x="349.00" y="121.50" width="9.70" height="17.00" fill="#000" stroke="#000" stroke-width="0.9" />
<text x="353.85" y="119.68" font-size="8" font-weight="bold" text-anchor="middle" fill="#000" stroke="#000" stroke-width="0.5">*</text>
<rect x="368.60" y="98.20" width="8.10" height="40.30" fill="#fff" stroke="#000" stroke-width="0.9" />
<line x1="384.50" y1="117.00" x2="384.50" y2="121.00" stroke="#000" stroke-width="0.9"/>
<line x1="382.02" y1="117.00" x2="386.98" y2="117.00" stroke="#000" stroke-width="0.9"/>
<rect x="380.00" y="121.00" width="9.00" height="17.50" fill="#000" stroke="#000" stroke-width="0.9" />
<text x="384.50" y="118.68" font-size="8" font-weight="bold" text-anchor="middle" fill="#000" stroke="#000" stroke-width="0.5">*</text>
<text x="317.00" y="145.47" font-size="5.2" font-weight="bold" text-anchor="end" fill="#000" stroke="#000" stroke-width="0.34" transform="rotate(-22 317.00 143.60)">HSF1</text>
<text x="348.00" y="144.87" font-size="5.2" font-weight="bold" text-anchor="end" fill="#000" stroke="#000" stroke-width="0.34" transform="rotate(-23 348.00 143.00)">CaM</text>
<text x="379.00" y="144.67" font-size="5.2" font-weight="bold" text-anchor="end" fill="#000" stroke="#000" stroke-width="0.34" transform="rotate(-23 379.00 142.80)">pAkt/Akt</text>
<text x="267.00" y="200.70" font-size="15" font-weight="bold" text-anchor="start" fill="#000" stroke="#000" stroke-width="0.34">G</text>
<text x="298.60" y="202.01" font-size="6.7" font-weight="bold" text-anchor="start" fill="#000" stroke="#000" stroke-width="0.34" textLength="21.00" lengthAdjust="spacingAndGlyphs">Scram</text>
<text x="329.00" y="202.01" font-size="6.7" font-weight="bold" text-anchor="start" fill="#000" stroke="#000" stroke-width="0.34" textLength="56.50" lengthAdjust="spacingAndGlyphs">siFAM3C (50nM)</text>
<text x="288.80" y="211.05" font-size="6.8" font-weight="bold" text-anchor="end" fill="#000" stroke="#000" stroke-width="0.34" textLength="16.60" lengthAdjust="spacingAndGlyphs">26kD</text>
<text x="288.80" y="218.95" font-size="6.8" font-weight="bold" text-anchor="end" fill="#000" stroke="#000" stroke-width="0.34" textLength="16.60" lengthAdjust="spacingAndGlyphs">22kD</text>
<rect x="289.40" y="204.40" width="73.80" height="17.40" fill="url(#gG)" stroke="none" stroke-width="0" />
<clipPath id="c2894_2044"><rect x="289.40" y="204.40" width="73.80" height="17.40"/></clipPath>
<g clip-path="url(#c2894_2044)" filter="url(#bl)">
<rect x="290.00" y="206.60" width="36.00" height="3.60" rx="1.80" fill="#333" opacity="0.45"/>
<rect x="334.00" y="207.50" width="22.00" height="2.60" rx="1.30" fill="#444" opacity="0.35"/>
<rect x="295.00" y="216.30" width="28.00" height="2.20" rx="1.10" fill="#444" opacity="0.4"/>
<rect x="336.00" y="217.00" width="18.00" height="1.60" rx="0.80" fill="#666" opacity="0.25"/>
</g>
<rect x="289.40" y="204.40" width="73.80" height="17.40" fill="none" stroke="#111" stroke-width="1.3" />
<rect x="289.40" y="223.40" width="73.80" height="10.60" fill="#b4b4b4" stroke="none" stroke-width="0" />
<clipPath id="c2894_2234"><rect x="289.40" y="223.40" width="73.80" height="10.60"/></clipPath>
<g clip-path="url(#c2894_2234)" filter="url(#bl)">
<rect x="298.50" y="226.90" width="27.00" height="3.00" rx="1.50" fill="#2a2a2a" opacity="0.85"/>
<rect x="331.00" y="227.70" width="24.00" height="2.20" rx="1.10" fill="#333" opacity="0.75"/>
</g>
<rect x="289.40" y="223.40" width="73.80" height="10.60" fill="none" stroke="#111" stroke-width="1.3" />
<rect x="289.40" y="236.00" width="73.80" height="10.30" fill="#d2d2d2" stroke="none" stroke-width="0" />
<clipPath id="c2894_2360"><rect x="289.40" y="236.00" width="73.80" height="10.30"/></clipPath>
<g clip-path="url(#c2894_2360)" filter="url(#bl)">
<rect x="296.00" y="240.10" width="26.00" height="1.80" rx="0.90" fill="#555" opacity="0.5"/>
<rect x="315.00" y="240.00" width="6.00" height="2.00" rx="1.00" fill="#333" opacity="0.5"/>
<rect x="334.00" y="240.40" width="22.00" height="1.60" rx="0.80" fill="#666" opacity="0.4"/>
</g>
<rect x="289.40" y="236.00" width="73.80" height="10.30" fill="none" stroke="#111" stroke-width="1.3" />
<rect x="289.40" y="247.90" width="73.80" height="10.90" fill="#d0d0d0" stroke="none" stroke-width="0" />
<clipPath id="c2894_2479"><rect x="289.40" y="247.90" width="73.80" height="10.90"/></clipPath>
<g clip-path="url(#c2894_2479)" filter="url(#bl)">
<rect x="296.00" y="252.45" width="26.00" height="1.50" rx="0.75" fill="#666" opacity="0.45"/>
<rect x="335.00" y="252.45" width="22.00" height="1.50" rx="0.75" fill="#666" opacity="0.45"/>
</g>
<rect x="289.40" y="247.90" width="73.80" height="10.90" fill="none" stroke="#111" stroke-width="1.3" />
<rect x="289.40" y="260.60" width="73.80" height="10.50" fill="#c8c8c8" stroke="none" stroke-width="0" />
<clipPath id="c2894_2606"><rect x="289.40" y="260.60" width="73.80" height="10.50"/></clipPath>
<g clip-path="url(#c2894_2606)" filter="url(#bl)">
<rect x="293.50" y="264.75" width="31.00" height="2.10" rx="1.05" fill="#2a2a2a" opacity="0.85"/>
<rect x="331.00" y="264.75" width="27.00" height="2.10" rx="1.05" fill="#2a2a2a" opacity="0.85"/>
<rect x="323.00" y="265.30" width="8.00" height="1.40" rx="0.70" fill="#444" opacity="0.5"/>
</g>
<rect x="289.40" y="260.60" width="73.80" height="10.50" fill="none" stroke="#111" stroke-width="1.3" />
<rect x="289.40" y="273.30" width="73.80" height="10.70" fill="#cacaca" stroke="none" stroke-width="0" />
<clipPath id="c2894_2733"><rect x="289.40" y="273.30" width="73.80" height="10.70"/></clipPath>
<g clip-path="url(#c2894_2733)" filter="url(#bl)">
<rect x="295.50" y="277.45" width="31.00" height="2.30" rx="1.15" fill="#2a2a2a" opacity="0.88"/>
<rect x="329.50" y="277.45" width="28.00" height="2.30" rx="1.15" fill="#2a2a2a" opacity="0.88"/>
<rect x="325.00" y="278.00" width="6.00" height="1.40" rx="0.70" fill="#444" opacity="0.5"/>
</g>
<rect x="289.40" y="273.30" width="73.80" height="10.70" fill="none" stroke="#111" stroke-width="1.3" />
<text x="364.90" y="214.50" font-size="7.5" font-weight="bold" text-anchor="start" fill="#000" stroke="#000" stroke-width="0.34" textLength="23.38" lengthAdjust="spacingAndGlyphs">FAM3C</text>
<text x="364.90" y="231.20" font-size="7.5" font-weight="bold" text-anchor="start" fill="#000" stroke="#000" stroke-width="0.34" textLength="17.64" lengthAdjust="spacingAndGlyphs">HSF1</text>
<text x="364.90" y="243.70" font-size="7.5" font-weight="bold" text-anchor="start" fill="#000" stroke="#000" stroke-width="0.34" textLength="14.57" lengthAdjust="spacingAndGlyphs">CaM</text>
<text x="364.90" y="255.90" font-size="7.5" font-weight="bold" text-anchor="start" fill="#000" stroke="#000" stroke-width="0.34" textLength="15.33" lengthAdjust="spacingAndGlyphs">pAkt</text>
<text x="364.90" y="268.30" font-size="7.5" font-weight="bold" text-anchor="start" fill="#000" stroke="#000" stroke-width="0.34" textLength="11.12" lengthAdjust="spacingAndGlyphs">Akt</text>
<text x="364.90" y="281.10" font-size="7.5" font-weight="bold" text-anchor="start" fill="#000" stroke="#000" stroke-width="0.34" textLength="14.57" lengthAdjust="spacingAndGlyphs">EIF5</text>
<line x1="312.00" y1="349.70" x2="312.00" y2="351.50" stroke="#000" stroke-width="0.8"/>
<line x1="329.50" y1="349.70" x2="329.50" y2="351.50" stroke="#000" stroke-width="0.8"/>
<line x1="347.30" y1="349.70" x2="347.30" y2="351.50" stroke="#000" stroke-width="0.8"/>
<line x1="365.20" y1="349.70" x2="365.20" y2="351.50" stroke="#000" stroke-width="0.8"/>
<line x1="383.00" y1="349.70" x2="383.00" y2="351.50" stroke="#000" stroke-width="0.8"/>
<line x1="302.50" y1="287.90" x2="302.50" y2="350.20" stroke="#000" stroke-width="1.0"/>
<line x1="302.00" y1="349.70" x2="393.00" y2="349.70" stroke="#000" stroke-width="1.0"/>
<line x1="300.50" y1="289.70" x2="302.50" y2="289.70" stroke="#000" stroke-width="0.9"/>
<text x="300.10" y="292.00" font-size="6.4" font-weight="bold" text-anchor="end" fill="#000" stroke="#000" stroke-width="0.34">1.5</text>
<line x1="300.50" y1="309.70" x2="302.50" y2="309.70" stroke="#000" stroke-width="0.9"/>
<text x="300.10" y="312.00" font-size="6.4" font-weight="bold" text-anchor="end" fill="#000" stroke="#000" stroke-width="0.34">1.0</text>
<line x1="300.50" y1="329.70" x2="302.50" y2="329.70" stroke="#000" stroke-width="0.9"/>
<text x="300.10" y="332.00" font-size="6.4" font-weight="bold" text-anchor="end" fill="#000" stroke="#000" stroke-width="0.34">0.5</text>
<line x1="300.50" y1="349.70" x2="302.50" y2="349.70" stroke="#000" stroke-width="0.9"/>
<text x="300.10" y="352.00" font-size="6.4" font-weight="bold" text-anchor="end" fill="#000" stroke="#000" stroke-width="0.34">0.0</text>
<text x="278.50" y="320.56" font-size="6.0" font-weight="bold" text-anchor="middle" fill="#000" stroke="#000" stroke-width="0.34" textLength="62.80" lengthAdjust="spacingAndGlyphs" transform="rotate(-90 278.50 318.40)">Relative protein level</text>
<text x="285.30" y="320.66" font-size="6.0" font-weight="bold" text-anchor="middle" fill="#000" stroke="#000" stroke-width="0.34" textLength="38.00" lengthAdjust="spacingAndGlyphs" transform="rotate(-90 285.30 318.50)">(Fold of Con)</text>
<rect x="304.80" y="298.80" width="6.20" height="3.20" fill="#fff" stroke="#000" stroke-width="0.9" />
<text x="314.80" y="302.20" font-size="5" font-weight="bold" text-anchor="start" fill="#000" stroke="#000" stroke-width="0.34" textLength="14.80" lengthAdjust="spacingAndGlyphs">Scram</text>
<rect x="335.00" y="298.80" width="7.20" height="3.20" fill="#000" stroke="#000" stroke-width="0.9" />
<text x="345.00" y="302.09" font-size="4.7" font-weight="bold" text-anchor="start" fill="#000" stroke="#000" stroke-width="0.34" textLength="21.80" lengthAdjust="spacingAndGlyphs">siFAM3C</text>
<rect x="305.80" y="309.70" width="4.40" height="40.00" fill="#fff" stroke="#000" stroke-width="0.9" />
<line x1="315.10" y1="319.60" x2="315.10" y2="324.20" stroke="#000" stroke-width="0.9"/>
<line x1="313.50" y1="319.60" x2="316.70" y2="319.60" stroke="#000" stroke-width="0.9"/>
<rect x="312.20" y="324.20" width="5.80" height="25.50" fill="#000" stroke="#000" stroke-width="0.9" />
<text x="315.10" y="321.68" font-size="8" font-weight="bold" text-anchor="middle" fill="#000" stroke="#000" stroke-width="0.5">*</text>
<rect x="323.10" y="309.70" width="4.50" height="40.00" fill="#fff" stroke="#000" stroke-width="0.9" />
<line x1="332.45" y1="330.40" x2="332.45" y2="334.00" stroke="#000" stroke-width="0.9"/>
<line x1="330.94" y1="330.40" x2="333.96" y2="330.40" stroke="#000" stroke-width="0.9"/>
<rect x="329.70" y="334.00" width="5.50" height="15.70" fill="#000" stroke="#000" stroke-width="0.9" />
<text x="332.45" y="331.68" font-size="8" font-weight="bold" text-anchor="middle" fill="#000" stroke="#000" stroke-width="0.5">*</text>
<rect x="341.70" y="309.70" width="4.30" height="40.00" fill="#fff" stroke="#000" stroke-width="0.9" />
<line x1="350.65" y1="317.00" x2="350.65" y2="318.80" stroke="#000" stroke-width="0.9"/>
<line x1="349.19" y1="317.00" x2="352.11" y2="317.00" stroke="#000" stroke-width="0.9"/>
<rect x="348.00" y="318.80" width="5.30" height="30.90" fill="#000" stroke="#000" stroke-width="0.9" />
<text x="350.65" y="319.08" font-size="8" font-weight="bold" text-anchor="middle" fill="#000" stroke="#000" stroke-width="0.5">*</text>
<rect x="360.00" y="309.70" width="4.40" height="40.00" fill="#fff" stroke="#000" stroke-width="0.9" />
<line x1="369.15" y1="316.00" x2="369.15" y2="318.80" stroke="#000" stroke-width="0.9"/>
<line x1="367.58" y1="316.00" x2="370.72" y2="316.00" stroke="#000" stroke-width="0.9"/>
<rect x="366.30" y="318.80" width="5.70" height="30.90" fill="#000" stroke="#000" stroke-width="0.9" />
<text x="369.15" y="317.68" font-size="8" font-weight="bold" text-anchor="middle" fill="#000" stroke="#000" stroke-width="0.5">*</text>
<rect x="377.70" y="309.70" width="4.70" height="40.00" fill="#fff" stroke="#000" stroke-width="0.9" />
<line x1="387.20" y1="311.80" x2="387.20" y2="313.80" stroke="#000" stroke-width="0.9"/>
<line x1="385.66" y1="311.80" x2="388.74" y2="311.80" stroke="#000" stroke-width="0.9"/>
<rect x="384.40" y="313.80" width="5.60" height="35.90" fill="#000" stroke="#000" stroke-width="0.9" />
<text x="387.20" y="313.48" font-size="8" font-weight="bold" text-anchor="middle" fill="#000" stroke="#000" stroke-width="0.5">*</text>
<text x="312.20" y="356.64" font-size="5.1" font-weight="bold" text-anchor="end" fill="#000" stroke="#000" stroke-width="0.34" transform="rotate(-31 312.20 354.80)">FAM3C(26kD)</text>
<text x="330.20" y="356.64" font-size="5.1" font-weight="bold" text-anchor="end" fill="#000" stroke="#000" stroke-width="0.34" transform="rotate(-31 330.20 354.80)">FAM3C(22kD)</text>
<text x="347.80" y="356.64" font-size="5.1" font-weight="bold" text-anchor="end" fill="#000" stroke="#000" stroke-width="0.34" transform="rotate(-31 347.80 354.80)">HSF1</text>
<text x="365.40" y="356.64" font-size="5.1" font-weight="bold" text-anchor="end" fill="#000" stroke="#000" stroke-width="0.34" transform="rotate(-31 365.40 354.80)">CaM</text>
<text x="383.80" y="356.64" font-size="5.1" font-weight="bold" text-anchor="end" fill="#000" stroke="#000" stroke-width="0.34" transform="rotate(-31 383.80 354.80)">pAkt/Akt</text>
<text x="389.20" y="11.80" font-size="15" font-weight="bold" text-anchor="start" fill="#000" stroke="#000" stroke-width="0.34">H</text>
<line x1="432.50" y1="71.20" x2="432.50" y2="73.00" stroke="#000" stroke-width="0.8"/>
<line x1="440.45" y1="71.20" x2="440.45" y2="73.00" stroke="#000" stroke-width="0.8"/>
<line x1="448.65" y1="71.20" x2="448.65" y2="73.00" stroke="#000" stroke-width="0.8"/>
<line x1="465.75" y1="71.20" x2="465.75" y2="73.00" stroke="#000" stroke-width="0.8"/>
<line x1="473.90" y1="71.20" x2="473.90" y2="73.00" stroke="#000" stroke-width="0.8"/>
<line x1="482.25" y1="71.20" x2="482.25" y2="73.00" stroke="#000" stroke-width="0.8"/>
<line x1="499.10" y1="71.20" x2="499.10" y2="73.00" stroke="#000" stroke-width="0.8"/>
<line x1="507.30" y1="71.20" x2="507.30" y2="73.00" stroke="#000" stroke-width="0.8"/>
<line x1="515.55" y1="71.20" x2="515.55" y2="73.00" stroke="#000" stroke-width="0.8"/>
<line x1="428.10" y1="8.60" x2="428.10" y2="71.70" stroke="#000" stroke-width="1.0"/>
<line x1="427.60" y1="71.20" x2="521.00" y2="71.20" stroke="#000" stroke-width="1.0"/>
<line x1="426.10" y1="10.40" x2="428.10" y2="10.40" stroke="#000" stroke-width="0.9"/>
<text x="425.70" y="12.70" font-size="6.4" font-weight="bold" text-anchor="end" fill="#000" stroke="#000" stroke-width="0.34">1.5</text>
<line x1="426.10" y1="30.60" x2="428.10" y2="30.60" stroke="#000" stroke-width="0.9"/>
<text x="425.70" y="32.90" font-size="6.4" font-weight="bold" text-anchor="end" fill="#000" stroke="#000" stroke-width="0.34">1.0</text>
<line x1="426.10" y1="50.80" x2="428.10" y2="50.80" stroke="#000" stroke-width="0.9"/>
<text x="425.70" y="53.10" font-size="6.4" font-weight="bold" text-anchor="end" fill="#000" stroke="#000" stroke-width="0.34">0.5</text>
<line x1="426.10" y1="71.00" x2="428.10" y2="71.00" stroke="#000" stroke-width="0.9"/>
<text x="425.70" y="73.30" font-size="6.4" font-weight="bold" text-anchor="end" fill="#000" stroke="#000" stroke-width="0.34">0.0</text>
<text x="404.90" y="41.06" font-size="6.0" font-weight="bold" text-anchor="middle" fill="#000" stroke="#000" stroke-width="0.34" textLength="61.40" lengthAdjust="spacingAndGlyphs" transform="rotate(-90 404.90 38.90)">Relative mRNA level</text>
<text x="411.40" y="40.76" font-size="6.0" font-weight="bold" text-anchor="middle" fill="#000" stroke="#000" stroke-width="0.34" textLength="37.80" lengthAdjust="spacingAndGlyphs" transform="rotate(-90 411.40 38.60)">(fold of Con)</text>
<text x="442.00" y="14.73" font-size="4.8" font-weight="bold" text-anchor="middle" fill="#000" stroke="#000" stroke-width="0.34" textLength="17.40" lengthAdjust="spacingAndGlyphs">FAM3C</text>
<text x="475.50" y="14.73" font-size="4.8" font-weight="bold" text-anchor="middle" fill="#000" stroke="#000" stroke-width="0.34" textLength="11.40" lengthAdjust="spacingAndGlyphs">HSF1</text>
<text x="507.20" y="14.73" font-size="4.8" font-weight="bold" text-anchor="middle" fill="#000" stroke="#000" stroke-width="0.34" textLength="15.20" lengthAdjust="spacingAndGlyphs">CALM1</text>
<rect x="429.60" y="30.50" width="5.80" height="40.50" fill="#fff" stroke="#000" stroke-width="0.9" />
<line x1="440.45" y1="52.50" x2="440.45" y2="54.20" stroke="#000" stroke-width="0.9"/>
<line x1="438.65" y1="52.50" x2="442.25" y2="52.50" stroke="#000" stroke-width="0.9"/>
<rect x="437.40" y="54.20" width="6.10" height="16.80" fill="#000" stroke="#000" stroke-width="0.9" />
<line x1="448.65" y1="56.40" x2="448.65" y2="58.00" stroke="#000" stroke-width="0.9"/>
<line x1="446.85" y1="56.40" x2="450.45" y2="56.40" stroke="#000" stroke-width="0.9"/>
<rect x="445.70" y="58.00" width="5.90" height="13.00" fill="url(#gfade)" stroke="#000" stroke-width="1.1" />
<text x="440.45" y="54.66" font-size="7.4" font-weight="bold" text-anchor="middle" fill="#000" stroke="#000" stroke-width="0.4">**</text>
<text x="448.65" y="58.46" font-size="7.4" font-weight="bold" text-anchor="middle" fill="#000" stroke="#000" stroke-width="0.4">**</text>
<text x="433.10" y="78.51" font-size="4.2" font-weight="bold" text-anchor="end" fill="#000" stroke="#000" stroke-width="0.42" transform="rotate(-29 433.10 77.00)">Scram (50nM)</text>
<text x="441.05" y="78.51" font-size="4.2" font-weight="bold" text-anchor="end" fill="#000" stroke="#000" stroke-width="0.42" transform="rotate(-29 441.05 77.00)">siFAM3C(25nM)</text>
<text x="449.25" y="78.51" font-size="4.2" font-weight="bold" text-anchor="end" fill="#000" stroke="#000" stroke-width="0.42" transform="rotate(-29 449.25 77.00)">siFAM3C(50nM)</text>
<rect x="463.00" y="30.50" width="5.50" height="40.50" fill="#fff" stroke="#000" stroke-width="0.9" />
<line x1="473.90" y1="38.80" x2="473.90" y2="40.50" stroke="#000" stroke-width="0.9"/>
<line x1="472.10" y1="38.80" x2="475.70" y2="38.80" stroke="#000" stroke-width="0.9"/>
<rect x="471.00" y="40.50" width="5.80" height="30.50" fill="#000" stroke="#000" stroke-width="0.9" />
<line x1="482.25" y1="41.90" x2="482.25" y2="43.50" stroke="#000" stroke-width="0.9"/>
<line x1="480.45" y1="41.90" x2="484.05" y2="41.90" stroke="#000" stroke-width="0.9"/>
<rect x="479.30" y="43.50" width="5.90" height="27.50" fill="url(#gfade)" stroke="#000" stroke-width="1.1" />
<text x="473.90" y="40.38" font-size="8" font-weight="bold" text-anchor="middle" fill="#000" stroke="#000" stroke-width="0.5">*</text>
<text x="482.25" y="43.76" font-size="7.4" font-weight="bold" text-anchor="middle" fill="#000" stroke="#000" stroke-width="0.4">**</text>
<text x="466.35" y="78.51" font-size="4.2" font-weight="bold" text-anchor="end" fill="#000" stroke="#000" stroke-width="0.42" transform="rotate(-29 466.35 77.00)">Scram (50nM)</text>
<text x="474.50" y="78.51" font-size="4.2" font-weight="bold" text-anchor="end" fill="#000" stroke="#000" stroke-width="0.42" transform="rotate(-29 474.50 77.00)">siFAM3C(25nM)</text>
<text x="482.85" y="78.51" font-size="4.2" font-weight="bold" text-anchor="end" fill="#000" stroke="#000" stroke-width="0.42" transform="rotate(-29 482.85 77.00)">siFAM3C(50nM)</text>
<rect x="496.40" y="30.50" width="5.40" height="40.50" fill="#fff" stroke="#000" stroke-width="0.9" />
<line x1="507.30" y1="36.40" x2="507.30" y2="38.10" stroke="#000" stroke-width="0.9"/>
<line x1="505.50" y1="36.40" x2="509.10" y2="36.40" stroke="#000" stroke-width="0.9"/>
<rect x="504.30" y="38.10" width="6.00" height="32.90" fill="#000" stroke="#000" stroke-width="0.9" />
<line x1="515.55" y1="35.30" x2="515.55" y2="36.90" stroke="#000" stroke-width="0.9"/>
<line x1="513.75" y1="35.30" x2="517.35" y2="35.30" stroke="#000" stroke-width="0.9"/>
<rect x="512.50" y="36.90" width="6.10" height="34.10" fill="url(#gfade)" stroke="#000" stroke-width="1.1" />
<text x="507.30" y="38.58" font-size="8" font-weight="bold" text-anchor="middle" fill="#000" stroke="#000" stroke-width="0.5">*</text>
<text x="515.55" y="34.90" font-size="5" font-weight="bold" text-anchor="middle" fill="#000" stroke="#000" stroke-width="0.34">$</text>
<text x="499.70" y="78.51" font-size="4.2" font-weight="bold" text-anchor="end" fill="#000" stroke="#000" stroke-width="0.42" transform="rotate(-29 499.70 77.00)">Scram (50nM)</text>
<text x="507.90" y="78.51" font-size="4.2" font-weight="bold" text-anchor="end" fill="#000" stroke="#000" stroke-width="0.42" transform="rotate(-29 507.90 77.00)">siFAM3C(25nM)</text>
<text x="516.15" y="78.51" font-size="4.2" font-weight="bold" text-anchor="end" fill="#000" stroke="#000" stroke-width="0.42" transform="rotate(-29 516.15 77.00)">siFAM3C(50nM)</text>
<text x="398.60" y="125.60" font-size="15" font-weight="bold" text-anchor="start" fill="#000" stroke="#000" stroke-width="0.34" textLength="4.80" lengthAdjust="spacingAndGlyphs">I</text>
<text x="425.00" y="123.52" font-size="7.0" font-weight="bold" text-anchor="start" fill="#000" stroke="#000" stroke-width="0.34" textLength="25.50" lengthAdjust="spacingAndGlyphs">Ad-GFP</text>
<text x="460.00" y="123.52" font-size="7.0" font-weight="bold" text-anchor="start" fill="#000" stroke="#000" stroke-width="0.34" textLength="36.00" lengthAdjust="spacingAndGlyphs">Ad-FAM3C</text>
<text x="419.40" y="132.89" font-size="7.2" font-weight="bold" text-anchor="end" fill="#000" stroke="#000" stroke-width="0.34" textLength="16.60" lengthAdjust="spacingAndGlyphs">26kD</text>
<text x="419.40" y="141.29" font-size="7.2" font-weight="bold" text-anchor="end" fill="#000" stroke="#000" stroke-width="0.34" textLength="16.60" lengthAdjust="spacingAndGlyphs">22kD</text>
<rect x="420.80" y="125.80" width="73.00" height="17.40" fill="url(#gI)" stroke="none" stroke-width="0" />
<clipPath id="c4208_1258"><rect x="420.80" y="125.80" width="73.00" height="17.40"/></clipPath>
<g clip-path="url(#c4208_1258)" filter="url(#bl)">
<rect x="427.50" y="130.70" width="23.00" height="1.80" rx="0.90" fill="#333" opacity="0.75"/>
<rect x="458.00" y="127.90" width="32.00" height="5.80" rx="2.90" fill="#2a2a2a" opacity="0.9"/>
<rect x="460.10" y="135.90" width="27.00" height="3.40" rx="1.70" fill="#2a2a2a" opacity="0.85"/>
<rect x="428.00" y="137.80" width="24.00" height="1.60" rx="0.80" fill="#666" opacity="0.25"/>
</g>
<rect x="420.80" y="125.80" width="73.00" height="17.40" fill="none" stroke="#111" stroke-width="1.3" />
<rect x="420.80" y="144.80" width="73.00" height="10.10" fill="#d0d0d0" stroke="none" stroke-width="0" />
<clipPath id="c4208_1448"><rect x="420.80" y="144.80" width="73.00" height="10.10"/></clipPath>
<g clip-path="url(#c4208_1448)" filter="url(#bl)">
<rect x="426.00" y="149.05" width="20.00" height="1.50" rx="0.75" fill="#666" opacity="0.4"/>
<rect x="459.80" y="148.10" width="28.00" height="2.80" rx="1.40" fill="#1a1a1a" opacity="0.92"/>
</g>
<rect x="420.80" y="144.80" width="73.00" height="10.10" fill="none" stroke="#111" stroke-width="1.3" />
<rect x="420.80" y="156.80" width="73.00" height="10.10" fill="#cdcdcd" stroke="none" stroke-width="0" />
<clipPath id="c4208_1568"><rect x="420.80" y="156.80" width="73.00" height="10.10"/></clipPath>
<g clip-path="url(#c4208_1568)" filter="url(#bl)">
<rect x="427.00" y="161.25" width="22.00" height="1.50" rx="0.75" fill="#777" opacity="0.3"/>
<rect x="462.00" y="160.80" width="25.00" height="2.00" rx="1.00" fill="#555" opacity="0.55"/>
</g>
<rect x="420.80" y="156.80" width="73.00" height="10.10" fill="none" stroke="#111" stroke-width="1.3" />
<rect x="420.80" y="168.90" width="73.00" height="10.90" fill="#d0d0d0" stroke="none" stroke-width="0" />
<clipPath id="c4208_1689"><rect x="420.80" y="168.90" width="73.00" height="10.90"/></clipPath>
<g clip-path="url(#c4208_1689)" filter="url(#bl)">
<rect x="429.00" y="173.90" width="14.00" height="1.40" rx="0.70" fill="#888" opacity="0.3"/>
<rect x="461.00" y="173.30" width="11.00" height="2.20" rx="1.10" fill="#333" opacity="0.7"/>
<rect x="475.00" y="173.60" width="12.00" height="2.00" rx="1.00" fill="#444" opacity="0.55"/>
</g>
<rect x="420.80" y="168.90" width="73.00" height="10.90" fill="none" stroke="#111" stroke-width="1.3" />
<rect x="420.80" y="181.30" width="73.00" height="10.40" fill="#c4c4c4" stroke="none" stroke-width="0" />
<clipPath id="c4208_1813"><rect x="420.80" y="181.30" width="73.00" height="10.40"/></clipPath>
<g clip-path="url(#c4208_1813)" filter="url(#bl)">
<rect x="423.00" y="185.20" width="30.00" height="2.00" rx="1.00" fill="#333" opacity="0.8"/>
<rect x="457.00" y="185.00" width="33.00" height="2.00" rx="1.00" fill="#333" opacity="0.8"/>
<rect x="449.50" y="185.50" width="12.00" height="1.60" rx="0.80" fill="#333" opacity="0.7"/>
</g>
<rect x="420.80" y="181.30" width="73.00" height="10.40" fill="none" stroke="#111" stroke-width="1.3" />
<rect x="420.80" y="193.50" width="73.00" height="11.40" fill="#c8c8c8" stroke="none" stroke-width="0" />
<clipPath id="c4208_1935"><rect x="420.80" y="193.50" width="73.00" height="11.40"/></clipPath>
<g clip-path="url(#c4208_1935)" filter="url(#bl)">
<rect x="426.00" y="197.90" width="28.00" height="2.60" rx="1.30" fill="#222" opacity="0.88"/>
<rect x="458.50" y="197.90" width="30.00" height="2.60" rx="1.30" fill="#222" opacity="0.88"/>
</g>
<rect x="420.80" y="193.50" width="73.00" height="11.40" fill="none" stroke="#111" stroke-width="1.3" />
<text x="495.80" y="135.70" font-size="7.5" font-weight="bold" text-anchor="start" fill="#000" stroke="#000" stroke-width="0.34" textLength="23.38" lengthAdjust="spacingAndGlyphs">FAM3C</text>
<text x="495.80" y="151.90" font-size="7.5" font-weight="bold" text-anchor="start" fill="#000" stroke="#000" stroke-width="0.34" textLength="17.64" lengthAdjust="spacingAndGlyphs">HSF1</text>
<text x="495.80" y="164.70" font-size="7.5" font-weight="bold" text-anchor="start" fill="#000" stroke="#000" stroke-width="0.34" textLength="14.57" lengthAdjust="spacingAndGlyphs">CaM</text>
<text x="495.80" y="177.00" font-size="7.5" font-weight="bold" text-anchor="start" fill="#000" stroke="#000" stroke-width="0.34" textLength="15.33" lengthAdjust="spacingAndGlyphs">pAkt</text>
<text x="495.80" y="188.30" font-size="7.5" font-weight="bold" text-anchor="start" fill="#000" stroke="#000" stroke-width="0.34" textLength="11.12" lengthAdjust="spacingAndGlyphs">Akt</text>
<text x="495.80" y="202.10" font-size="7.5" font-weight="bold" text-anchor="start" fill="#000" stroke="#000" stroke-width="0.34" textLength="14.57" lengthAdjust="spacingAndGlyphs">EIF5</text>
<line x1="443.60" y1="273.30" x2="443.60" y2="275.10" stroke="#000" stroke-width="0.8"/>
<line x1="474.00" y1="273.30" x2="474.00" y2="275.10" stroke="#000" stroke-width="0.8"/>
<line x1="504.20" y1="273.30" x2="504.20" y2="275.10" stroke="#000" stroke-width="0.8"/>
<line x1="428.20" y1="212.50" x2="428.20" y2="273.80" stroke="#000" stroke-width="1.0"/>
<line x1="427.70" y1="273.30" x2="521.00" y2="273.30" stroke="#000" stroke-width="1.0"/>
<line x1="426.20" y1="214.30" x2="428.20" y2="214.30" stroke="#000" stroke-width="0.9"/>
<text x="425.80" y="216.60" font-size="6.4" font-weight="bold" text-anchor="end" fill="#000" stroke="#000" stroke-width="0.34">5</text>
<line x1="426.20" y1="226.10" x2="428.20" y2="226.10" stroke="#000" stroke-width="0.9"/>
<text x="425.80" y="228.40" font-size="6.4" font-weight="bold" text-anchor="end" fill="#000" stroke="#000" stroke-width="0.34">4</text>
<line x1="426.20" y1="237.90" x2="428.20" y2="237.90" stroke="#000" stroke-width="0.9"/>
<text x="425.80" y="240.20" font-size="6.4" font-weight="bold" text-anchor="end" fill="#000" stroke="#000" stroke-width="0.34">3</text>
<line x1="426.20" y1="249.70" x2="428.20" y2="249.70" stroke="#000" stroke-width="0.9"/>
<text x="425.80" y="252.00" font-size="6.4" font-weight="bold" text-anchor="end" fill="#000" stroke="#000" stroke-width="0.34">2</text>
<line x1="426.20" y1="261.50" x2="428.20" y2="261.50" stroke="#000" stroke-width="0.9"/>
<text x="425.80" y="263.80" font-size="6.4" font-weight="bold" text-anchor="end" fill="#000" stroke="#000" stroke-width="0.34">1</text>
<line x1="426.20" y1="273.30" x2="428.20" y2="273.30" stroke="#000" stroke-width="0.9"/>
<text x="425.80" y="275.60" font-size="6.4" font-weight="bold" text-anchor="end" fill="#000" stroke="#000" stroke-width="0.34">0</text>
<text x="410.60" y="244.56" font-size="6.0" font-weight="bold" text-anchor="middle" fill="#000" stroke="#000" stroke-width="0.34" textLength="63.30" lengthAdjust="spacingAndGlyphs" transform="rotate(-90 410.60 242.40)">Relative protein level</text>
<text x="417.80" y="244.66" font-size="6.0" font-weight="bold" text-anchor="middle" fill="#000" stroke="#000" stroke-width="0.34" textLength="38.80" lengthAdjust="spacingAndGlyphs" transform="rotate(-90 417.80 242.50)">(Fold of Con)</text>
<rect x="431.00" y="213.90" width="6.00" height="3.20" fill="#fff" stroke="#000" stroke-width="0.9" />
<text x="440.90" y="217.16" font-size="4.6" font-weight="bold" text-anchor="start" fill="#000" stroke="#000" stroke-width="0.34" textLength="16.60" lengthAdjust="spacingAndGlyphs">Ad-GFP</text>
<rect x="461.50" y="213.90" width="6.60" height="3.20" fill="#000" stroke="#000" stroke-width="0.9" />
<text x="471.50" y="217.16" font-size="4.6" font-weight="bold" text-anchor="start" fill="#000" stroke="#000" stroke-width="0.34" textLength="24.40" lengthAdjust="spacingAndGlyphs">Ad-FAM3C</text>
<rect x="434.00" y="261.40" width="7.60" height="11.90" fill="#fff" stroke="#000" stroke-width="0.9" />
<line x1="449.20" y1="239.40" x2="449.20" y2="244.00" stroke="#000" stroke-width="0.9"/>
<line x1="447.11" y1="239.40" x2="451.29" y2="239.40" stroke="#000" stroke-width="0.9"/>
<rect x="445.40" y="244.00" width="7.60" height="29.30" fill="#000" stroke="#000" stroke-width="0.9" />
<text x="449.20" y="240.08" font-size="8" font-weight="bold" text-anchor="middle" fill="#000" stroke="#000" stroke-width="0.5">*</text>
<rect x="464.30" y="261.00" width="7.70" height="12.30" fill="#fff" stroke="#000" stroke-width="0.9" />
<line x1="479.50" y1="238.40" x2="479.50" y2="243.80" stroke="#000" stroke-width="0.9"/>
<line x1="477.13" y1="238.40" x2="481.87" y2="238.40" stroke="#000" stroke-width="0.9"/>
<rect x="475.20" y="243.80" width="8.60" height="29.50" fill="#000" stroke="#000" stroke-width="0.9" />
<text x="479.50" y="239.48" font-size="8" font-weight="bold" text-anchor="middle" fill="#000" stroke="#000" stroke-width="0.5">*</text>
<rect x="494.20" y="261.40" width="7.80" height="11.90" fill="#fff" stroke="#000" stroke-width="0.9" />
<line x1="509.60" y1="243.20" x2="509.60" y2="246.20" stroke="#000" stroke-width="0.9"/>
<line x1="507.29" y1="243.20" x2="511.91" y2="243.20" stroke="#000" stroke-width="0.9"/>
<rect x="505.40" y="246.20" width="8.40" height="27.10" fill="#000" stroke="#000" stroke-width="0.9" />
<text x="509.60" y="244.68" font-size="8" font-weight="bold" text-anchor="middle" fill="#000" stroke="#000" stroke-width="0.5">*</text>
<text x="443.40" y="280.27" font-size="5.2" font-weight="bold" text-anchor="end" fill="#000" stroke="#000" stroke-width="0.34" transform="rotate(-26 443.40 278.40)">HSF1</text>
<text x="475.40" y="280.07" font-size="5.2" font-weight="bold" text-anchor="end" fill="#000" stroke="#000" stroke-width="0.34" transform="rotate(-27 475.40 278.20)">CaM</text>
<text x="507.40" y="280.27" font-size="5.2" font-weight="bold" text-anchor="end" fill="#000" stroke="#000" stroke-width="0.34" transform="rotate(-27 507.40 278.40)">pAkt/Akt</text>
</g>
</svg></body></html>
